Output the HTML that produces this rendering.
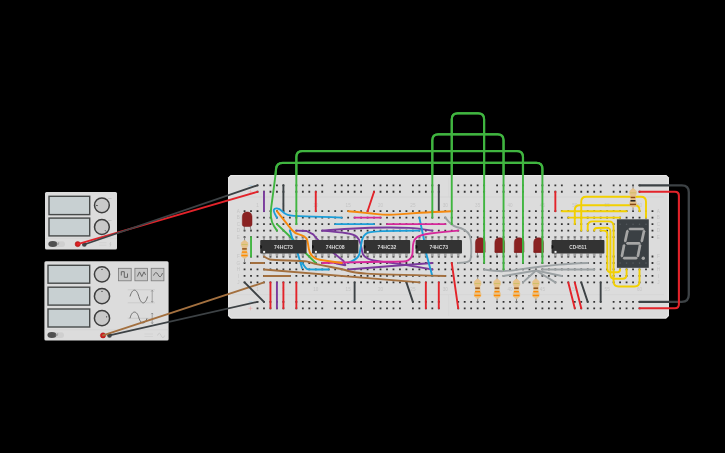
<!DOCTYPE html><html><head><meta charset="utf-8"><style>html,body{margin:0;padding:0;background:#000;width:725px;height:453px;overflow:hidden}svg{display:block;will-change:transform}text{font-family:"Liberation Sans",sans-serif}</style></head><body>
<svg width="725" height="453" viewBox="0 0 725 453">
<rect x="0" y="0" width="725" height="453" fill="#000"/>
<rect x="45" y="192" width="72" height="57.5" rx="1.5" fill="#dcdcdc"/>
<rect x="49" y="196.3" width="40.7" height="18.3" fill="#c8d0d2" stroke="#474a4a" stroke-width="1.4"/>
<rect x="49" y="218.1" width="40.7" height="17.8" fill="#c8d0d2" stroke="#474a4a" stroke-width="1.4"/>
<circle cx="101.9" cy="205.3" r="7.4" fill="#c9c9c9" stroke="#3d3d3d" stroke-width="1.5"/>
<circle cx="101.9" cy="227" r="7.4" fill="#c9c9c9" stroke="#3d3d3d" stroke-width="1.5"/>
<line x1="96" y1="205.4" x2="97.8" y2="205.6" stroke="#333" stroke-width="0.8"/>
<line x1="105" y1="230.2" x2="106" y2="231.4" stroke="#333" stroke-width="0.8"/>
<line x1="45.5" y1="238.3" x2="116.5" y2="238.3" stroke="#d0d0d0" stroke-width="0.6"/>
<rect x="49" y="241.2" width="16" height="5.8" rx="2.9" fill="#cfcfcf"/>
<ellipse cx="52.8" cy="244.1" rx="4.5" ry="3.0" fill="#505050"/>
<circle cx="77.7" cy="244.1" r="2.6" fill="#d01f1f" stroke="#a51515" stroke-width="0.5"/>
<path d="M99 242.6 h7.5 M99 245.2 h7.5" stroke="#cdcdcd" stroke-width="0.6"/>
<path d="M110.8 242 l-1 2.3 h1.2 l-1 2.3" fill="none" stroke="#bbb" stroke-width="0.5"/>
<text x="56.5" y="245.3" font-size="2.6" fill="#888">off</text>
<text x="108" y="199" font-size="2.4" fill="#aaa">ON</text><text x="108" y="221" font-size="2.4" fill="#aaa">ON</text>
<circle cx="84.3" cy="244.5" r="2.3" fill="#444"/>
<rect x="44.4" y="261.3" width="124.2" height="79.3" rx="1.5" fill="#dcdcdc"/>
<rect x="48" y="265.3" width="41.7" height="17.9" fill="#c8d0d2" stroke="#474a4a" stroke-width="1.4"/>
<rect x="48" y="287.2" width="41.7" height="17.9" fill="#c8d0d2" stroke="#474a4a" stroke-width="1.4"/>
<rect x="48" y="309" width="41.7" height="18" fill="#c8d0d2" stroke="#474a4a" stroke-width="1.4"/>
<circle cx="102" cy="274.3" r="7.6" fill="#c9c9c9" stroke="#3d3d3d" stroke-width="1.5"/>
<circle cx="102" cy="296.2" r="7.6" fill="#c9c9c9" stroke="#3d3d3d" stroke-width="1.5"/>
<circle cx="102" cy="318.2" r="7.6" fill="#c9c9c9" stroke="#3d3d3d" stroke-width="1.5"/>
<circle cx="102" cy="269.4" r="0.6" fill="#333"/><circle cx="102" cy="291.4" r="0.6" fill="#333"/><circle cx="106.6" cy="316.8" r="0.6" fill="#333"/>
<rect x="118.5" y="268.3" width="12.7" height="12.5" fill="#c8c8c8" stroke="#7a7a7a" stroke-width="0.8"/>
<rect x="134.9" y="268.3" width="12.7" height="12.5" fill="#c8c8c8" stroke="#7a7a7a" stroke-width="0.8"/>
<rect x="151.2" y="268.3" width="12.7" height="12.5" fill="#c8c8c8" stroke="#7a7a7a" stroke-width="0.8"/>
<path d="M121.3 275.5 v-3.8 h3 v5.6 h3.2 v-3.8" fill="none" stroke="#5a5a5a" stroke-width="0.9"/>
<path d="M137.3 276.5 l2.2 -4.6 l2.3 4.6 l2.2 -4.6 l1.6 3" fill="none" stroke="#5a5a5a" stroke-width="0.9"/>
<path d="M153.5 275.6 q2.3 -5.5 4.5 -1 q2.3 5 4.5 -1.5" fill="none" stroke="#5a5a5a" stroke-width="0.9"/>
<line x1="127.8" y1="289.8" x2="154.8" y2="289.8" stroke="#c4c4c4" stroke-width="0.7"/><line x1="127.8" y1="302.8" x2="154.8" y2="302.8" stroke="#c4c4c4" stroke-width="0.7"/>
<path d="M130 296.5 C132.5 288 136.5 288 138.8 296.5 C141.3 305 145.2 305 147.6 296.5" fill="none" stroke="#666" stroke-width="0.9"/>
<path d="M152.2 290.3 v12 M151.2 291.5 l1 -1.2 l1 1.2 M151.2 301.1 l1 1.2 l1 -1.2" fill="none" stroke="#777" stroke-width="0.6"/>
<line x1="127.8" y1="318.3" x2="154.8" y2="318.3" stroke="#c4c4c4" stroke-width="0.7"/>
<path d="M130 318.3 C132 310 137 310 139 318.3 C141 324.5 145 324.5 147 318.3" fill="none" stroke="#666" stroke-width="0.9"/>
<path d="M152.2 313 v10.6 M151.2 314.2 l1 -1.2 l1 1.2 M151.2 322.4 l1 1.2 l1 -1.2" fill="none" stroke="#777" stroke-width="0.6"/>
<line x1="44.8" y1="329.8" x2="168.2" y2="329.8" stroke="#d0d0d0" stroke-width="0.6"/>
<rect x="48" y="332.2" width="16" height="5.8" rx="2.9" fill="#cfcfcf"/>
<ellipse cx="51.9" cy="335.1" rx="4.5" ry="3.0" fill="#505050"/>
<circle cx="103" cy="335.4" r="2.6" fill="#d01f1f" stroke="#a51515" stroke-width="0.5"/>
<text x="55.5" y="336.4" font-size="2.6" fill="#888">off</text>
<path d="M157.5 335.5 q1.8 -4.5 3.6 0 q1.8 4.5 3.6 0" fill="none" stroke="#bdbdbd" stroke-width="0.6"/>
<path d="M144.5 334 h8.5 M144.5 336.5 h8.5" stroke="#cdcdcd" stroke-width="0.6"/>
<circle cx="109.5" cy="335.4" r="2.3" fill="#444"/>
<path d="M230.6 175 H666.4 L668.9 177.5 V316.1 L666.4 318.6 H230.6 L228.1 316.1 V177.5 Z" fill="#dcdcdc"/>
<path d="M230.9 175.6 H666.1 L668.3 177.8 V315.8 L666.1 318 H230.9 L228.7 315.8 V177.8 Z" fill="none" stroke="#e9e9e9" stroke-width="1"/>
<line x1="232" y1="197" x2="664" y2="197" stroke="#d2d2d2" stroke-width="0.6"/>
<line x1="232" y1="294.6" x2="664" y2="294.6" stroke="#d2d2d2" stroke-width="0.6"/>
<line x1="448.6" y1="295" x2="448.6" y2="316" stroke="#d4d4d4" stroke-width="0.6"/>
<line x1="448.6" y1="178" x2="448.6" y2="197" stroke="#d4d4d4" stroke-width="0.6"/>
<path d="M243.65 210.3h1.8v1.8h-1.8zM243.65 216.77h1.8v1.8h-1.8zM243.65 223.25h1.8v1.8h-1.8zM243.65 229.72h1.8v1.8h-1.8zM243.65 236.2h1.8v1.8h-1.8zM243.65 255.62h1.8v1.8h-1.8zM243.65 262.1h1.8v1.8h-1.8zM243.65 268.57h1.8v1.8h-1.8zM243.65 275.05h1.8v1.8h-1.8zM243.65 281.52h1.8v1.8h-1.8zM250.12 210.3h1.8v1.8h-1.8zM250.12 216.77h1.8v1.8h-1.8zM250.12 223.25h1.8v1.8h-1.8zM250.12 229.72h1.8v1.8h-1.8zM250.12 236.2h1.8v1.8h-1.8zM250.12 255.62h1.8v1.8h-1.8zM250.12 262.1h1.8v1.8h-1.8zM250.12 268.57h1.8v1.8h-1.8zM250.12 275.05h1.8v1.8h-1.8zM250.12 281.52h1.8v1.8h-1.8zM256.6 210.3h1.8v1.8h-1.8zM256.6 216.77h1.8v1.8h-1.8zM256.6 223.25h1.8v1.8h-1.8zM256.6 229.72h1.8v1.8h-1.8zM256.6 236.2h1.8v1.8h-1.8zM256.6 255.62h1.8v1.8h-1.8zM256.6 262.1h1.8v1.8h-1.8zM256.6 268.57h1.8v1.8h-1.8zM256.6 275.05h1.8v1.8h-1.8zM256.6 281.52h1.8v1.8h-1.8zM263.08 210.3h1.8v1.8h-1.8zM263.08 216.77h1.8v1.8h-1.8zM263.08 223.25h1.8v1.8h-1.8zM263.08 229.72h1.8v1.8h-1.8zM263.08 236.2h1.8v1.8h-1.8zM263.08 255.62h1.8v1.8h-1.8zM263.08 262.1h1.8v1.8h-1.8zM263.08 268.57h1.8v1.8h-1.8zM263.08 275.05h1.8v1.8h-1.8zM263.08 281.52h1.8v1.8h-1.8zM269.55 210.3h1.8v1.8h-1.8zM269.55 216.77h1.8v1.8h-1.8zM269.55 223.25h1.8v1.8h-1.8zM269.55 229.72h1.8v1.8h-1.8zM269.55 236.2h1.8v1.8h-1.8zM269.55 255.62h1.8v1.8h-1.8zM269.55 262.1h1.8v1.8h-1.8zM269.55 268.57h1.8v1.8h-1.8zM269.55 275.05h1.8v1.8h-1.8zM269.55 281.52h1.8v1.8h-1.8zM276.03 210.3h1.8v1.8h-1.8zM276.03 216.77h1.8v1.8h-1.8zM276.03 223.25h1.8v1.8h-1.8zM276.03 229.72h1.8v1.8h-1.8zM276.03 236.2h1.8v1.8h-1.8zM276.03 255.62h1.8v1.8h-1.8zM276.03 262.1h1.8v1.8h-1.8zM276.03 268.57h1.8v1.8h-1.8zM276.03 275.05h1.8v1.8h-1.8zM276.03 281.52h1.8v1.8h-1.8zM282.5 210.3h1.8v1.8h-1.8zM282.5 216.77h1.8v1.8h-1.8zM282.5 223.25h1.8v1.8h-1.8zM282.5 229.72h1.8v1.8h-1.8zM282.5 236.2h1.8v1.8h-1.8zM282.5 255.62h1.8v1.8h-1.8zM282.5 262.1h1.8v1.8h-1.8zM282.5 268.57h1.8v1.8h-1.8zM282.5 275.05h1.8v1.8h-1.8zM282.5 281.52h1.8v1.8h-1.8zM288.98 210.3h1.8v1.8h-1.8zM288.98 216.77h1.8v1.8h-1.8zM288.98 223.25h1.8v1.8h-1.8zM288.98 229.72h1.8v1.8h-1.8zM288.98 236.2h1.8v1.8h-1.8zM288.98 255.62h1.8v1.8h-1.8zM288.98 262.1h1.8v1.8h-1.8zM288.98 268.57h1.8v1.8h-1.8zM288.98 275.05h1.8v1.8h-1.8zM288.98 281.52h1.8v1.8h-1.8zM295.45 210.3h1.8v1.8h-1.8zM295.45 216.77h1.8v1.8h-1.8zM295.45 223.25h1.8v1.8h-1.8zM295.45 229.72h1.8v1.8h-1.8zM295.45 236.2h1.8v1.8h-1.8zM295.45 255.62h1.8v1.8h-1.8zM295.45 262.1h1.8v1.8h-1.8zM295.45 268.57h1.8v1.8h-1.8zM295.45 275.05h1.8v1.8h-1.8zM295.45 281.52h1.8v1.8h-1.8zM301.93 210.3h1.8v1.8h-1.8zM301.93 216.77h1.8v1.8h-1.8zM301.93 223.25h1.8v1.8h-1.8zM301.93 229.72h1.8v1.8h-1.8zM301.93 236.2h1.8v1.8h-1.8zM301.93 255.62h1.8v1.8h-1.8zM301.93 262.1h1.8v1.8h-1.8zM301.93 268.57h1.8v1.8h-1.8zM301.93 275.05h1.8v1.8h-1.8zM301.93 281.52h1.8v1.8h-1.8zM308.4 210.3h1.8v1.8h-1.8zM308.4 216.77h1.8v1.8h-1.8zM308.4 223.25h1.8v1.8h-1.8zM308.4 229.72h1.8v1.8h-1.8zM308.4 236.2h1.8v1.8h-1.8zM308.4 255.62h1.8v1.8h-1.8zM308.4 262.1h1.8v1.8h-1.8zM308.4 268.57h1.8v1.8h-1.8zM308.4 275.05h1.8v1.8h-1.8zM308.4 281.52h1.8v1.8h-1.8zM314.88 210.3h1.8v1.8h-1.8zM314.88 216.77h1.8v1.8h-1.8zM314.88 223.25h1.8v1.8h-1.8zM314.88 229.72h1.8v1.8h-1.8zM314.88 236.2h1.8v1.8h-1.8zM314.88 255.62h1.8v1.8h-1.8zM314.88 262.1h1.8v1.8h-1.8zM314.88 268.57h1.8v1.8h-1.8zM314.88 275.05h1.8v1.8h-1.8zM314.88 281.52h1.8v1.8h-1.8zM321.35 210.3h1.8v1.8h-1.8zM321.35 216.77h1.8v1.8h-1.8zM321.35 223.25h1.8v1.8h-1.8zM321.35 229.72h1.8v1.8h-1.8zM321.35 236.2h1.8v1.8h-1.8zM321.35 255.62h1.8v1.8h-1.8zM321.35 262.1h1.8v1.8h-1.8zM321.35 268.57h1.8v1.8h-1.8zM321.35 275.05h1.8v1.8h-1.8zM321.35 281.52h1.8v1.8h-1.8zM327.83 210.3h1.8v1.8h-1.8zM327.83 216.77h1.8v1.8h-1.8zM327.83 223.25h1.8v1.8h-1.8zM327.83 229.72h1.8v1.8h-1.8zM327.83 236.2h1.8v1.8h-1.8zM327.83 255.62h1.8v1.8h-1.8zM327.83 262.1h1.8v1.8h-1.8zM327.83 268.57h1.8v1.8h-1.8zM327.83 275.05h1.8v1.8h-1.8zM327.83 281.52h1.8v1.8h-1.8zM334.3 210.3h1.8v1.8h-1.8zM334.3 216.77h1.8v1.8h-1.8zM334.3 223.25h1.8v1.8h-1.8zM334.3 229.72h1.8v1.8h-1.8zM334.3 236.2h1.8v1.8h-1.8zM334.3 255.62h1.8v1.8h-1.8zM334.3 262.1h1.8v1.8h-1.8zM334.3 268.57h1.8v1.8h-1.8zM334.3 275.05h1.8v1.8h-1.8zM334.3 281.52h1.8v1.8h-1.8zM340.78 210.3h1.8v1.8h-1.8zM340.78 216.77h1.8v1.8h-1.8zM340.78 223.25h1.8v1.8h-1.8zM340.78 229.72h1.8v1.8h-1.8zM340.78 236.2h1.8v1.8h-1.8zM340.78 255.62h1.8v1.8h-1.8zM340.78 262.1h1.8v1.8h-1.8zM340.78 268.57h1.8v1.8h-1.8zM340.78 275.05h1.8v1.8h-1.8zM340.78 281.52h1.8v1.8h-1.8zM347.25 210.3h1.8v1.8h-1.8zM347.25 216.77h1.8v1.8h-1.8zM347.25 223.25h1.8v1.8h-1.8zM347.25 229.72h1.8v1.8h-1.8zM347.25 236.2h1.8v1.8h-1.8zM347.25 255.62h1.8v1.8h-1.8zM347.25 262.1h1.8v1.8h-1.8zM347.25 268.57h1.8v1.8h-1.8zM347.25 275.05h1.8v1.8h-1.8zM347.25 281.52h1.8v1.8h-1.8zM353.73 210.3h1.8v1.8h-1.8zM353.73 216.77h1.8v1.8h-1.8zM353.73 223.25h1.8v1.8h-1.8zM353.73 229.72h1.8v1.8h-1.8zM353.73 236.2h1.8v1.8h-1.8zM353.73 255.62h1.8v1.8h-1.8zM353.73 262.1h1.8v1.8h-1.8zM353.73 268.57h1.8v1.8h-1.8zM353.73 275.05h1.8v1.8h-1.8zM353.73 281.52h1.8v1.8h-1.8zM360.2 210.3h1.8v1.8h-1.8zM360.2 216.77h1.8v1.8h-1.8zM360.2 223.25h1.8v1.8h-1.8zM360.2 229.72h1.8v1.8h-1.8zM360.2 236.2h1.8v1.8h-1.8zM360.2 255.62h1.8v1.8h-1.8zM360.2 262.1h1.8v1.8h-1.8zM360.2 268.57h1.8v1.8h-1.8zM360.2 275.05h1.8v1.8h-1.8zM360.2 281.52h1.8v1.8h-1.8zM366.68 210.3h1.8v1.8h-1.8zM366.68 216.77h1.8v1.8h-1.8zM366.68 223.25h1.8v1.8h-1.8zM366.68 229.72h1.8v1.8h-1.8zM366.68 236.2h1.8v1.8h-1.8zM366.68 255.62h1.8v1.8h-1.8zM366.68 262.1h1.8v1.8h-1.8zM366.68 268.57h1.8v1.8h-1.8zM366.68 275.05h1.8v1.8h-1.8zM366.68 281.52h1.8v1.8h-1.8zM373.15 210.3h1.8v1.8h-1.8zM373.15 216.77h1.8v1.8h-1.8zM373.15 223.25h1.8v1.8h-1.8zM373.15 229.72h1.8v1.8h-1.8zM373.15 236.2h1.8v1.8h-1.8zM373.15 255.62h1.8v1.8h-1.8zM373.15 262.1h1.8v1.8h-1.8zM373.15 268.57h1.8v1.8h-1.8zM373.15 275.05h1.8v1.8h-1.8zM373.15 281.52h1.8v1.8h-1.8zM379.62 210.3h1.8v1.8h-1.8zM379.62 216.77h1.8v1.8h-1.8zM379.62 223.25h1.8v1.8h-1.8zM379.62 229.72h1.8v1.8h-1.8zM379.62 236.2h1.8v1.8h-1.8zM379.62 255.62h1.8v1.8h-1.8zM379.62 262.1h1.8v1.8h-1.8zM379.62 268.57h1.8v1.8h-1.8zM379.62 275.05h1.8v1.8h-1.8zM379.62 281.52h1.8v1.8h-1.8zM386.1 210.3h1.8v1.8h-1.8zM386.1 216.77h1.8v1.8h-1.8zM386.1 223.25h1.8v1.8h-1.8zM386.1 229.72h1.8v1.8h-1.8zM386.1 236.2h1.8v1.8h-1.8zM386.1 255.62h1.8v1.8h-1.8zM386.1 262.1h1.8v1.8h-1.8zM386.1 268.57h1.8v1.8h-1.8zM386.1 275.05h1.8v1.8h-1.8zM386.1 281.52h1.8v1.8h-1.8zM392.58 210.3h1.8v1.8h-1.8zM392.58 216.77h1.8v1.8h-1.8zM392.58 223.25h1.8v1.8h-1.8zM392.58 229.72h1.8v1.8h-1.8zM392.58 236.2h1.8v1.8h-1.8zM392.58 255.62h1.8v1.8h-1.8zM392.58 262.1h1.8v1.8h-1.8zM392.58 268.57h1.8v1.8h-1.8zM392.58 275.05h1.8v1.8h-1.8zM392.58 281.52h1.8v1.8h-1.8zM399.05 210.3h1.8v1.8h-1.8zM399.05 216.77h1.8v1.8h-1.8zM399.05 223.25h1.8v1.8h-1.8zM399.05 229.72h1.8v1.8h-1.8zM399.05 236.2h1.8v1.8h-1.8zM399.05 255.62h1.8v1.8h-1.8zM399.05 262.1h1.8v1.8h-1.8zM399.05 268.57h1.8v1.8h-1.8zM399.05 275.05h1.8v1.8h-1.8zM399.05 281.52h1.8v1.8h-1.8zM405.52 210.3h1.8v1.8h-1.8zM405.52 216.77h1.8v1.8h-1.8zM405.52 223.25h1.8v1.8h-1.8zM405.52 229.72h1.8v1.8h-1.8zM405.52 236.2h1.8v1.8h-1.8zM405.52 255.62h1.8v1.8h-1.8zM405.52 262.1h1.8v1.8h-1.8zM405.52 268.57h1.8v1.8h-1.8zM405.52 275.05h1.8v1.8h-1.8zM405.52 281.52h1.8v1.8h-1.8zM412 210.3h1.8v1.8h-1.8zM412 216.77h1.8v1.8h-1.8zM412 223.25h1.8v1.8h-1.8zM412 229.72h1.8v1.8h-1.8zM412 236.2h1.8v1.8h-1.8zM412 255.62h1.8v1.8h-1.8zM412 262.1h1.8v1.8h-1.8zM412 268.57h1.8v1.8h-1.8zM412 275.05h1.8v1.8h-1.8zM412 281.52h1.8v1.8h-1.8zM418.48 210.3h1.8v1.8h-1.8zM418.48 216.77h1.8v1.8h-1.8zM418.48 223.25h1.8v1.8h-1.8zM418.48 229.72h1.8v1.8h-1.8zM418.48 236.2h1.8v1.8h-1.8zM418.48 255.62h1.8v1.8h-1.8zM418.48 262.1h1.8v1.8h-1.8zM418.48 268.57h1.8v1.8h-1.8zM418.48 275.05h1.8v1.8h-1.8zM418.48 281.52h1.8v1.8h-1.8zM424.95 210.3h1.8v1.8h-1.8zM424.95 216.77h1.8v1.8h-1.8zM424.95 223.25h1.8v1.8h-1.8zM424.95 229.72h1.8v1.8h-1.8zM424.95 236.2h1.8v1.8h-1.8zM424.95 255.62h1.8v1.8h-1.8zM424.95 262.1h1.8v1.8h-1.8zM424.95 268.57h1.8v1.8h-1.8zM424.95 275.05h1.8v1.8h-1.8zM424.95 281.52h1.8v1.8h-1.8zM431.43 210.3h1.8v1.8h-1.8zM431.43 216.77h1.8v1.8h-1.8zM431.43 223.25h1.8v1.8h-1.8zM431.43 229.72h1.8v1.8h-1.8zM431.43 236.2h1.8v1.8h-1.8zM431.43 255.62h1.8v1.8h-1.8zM431.43 262.1h1.8v1.8h-1.8zM431.43 268.57h1.8v1.8h-1.8zM431.43 275.05h1.8v1.8h-1.8zM431.43 281.52h1.8v1.8h-1.8zM437.9 210.3h1.8v1.8h-1.8zM437.9 216.77h1.8v1.8h-1.8zM437.9 223.25h1.8v1.8h-1.8zM437.9 229.72h1.8v1.8h-1.8zM437.9 236.2h1.8v1.8h-1.8zM437.9 255.62h1.8v1.8h-1.8zM437.9 262.1h1.8v1.8h-1.8zM437.9 268.57h1.8v1.8h-1.8zM437.9 275.05h1.8v1.8h-1.8zM437.9 281.52h1.8v1.8h-1.8zM444.38 210.3h1.8v1.8h-1.8zM444.38 216.77h1.8v1.8h-1.8zM444.38 223.25h1.8v1.8h-1.8zM444.38 229.72h1.8v1.8h-1.8zM444.38 236.2h1.8v1.8h-1.8zM444.38 255.62h1.8v1.8h-1.8zM444.38 262.1h1.8v1.8h-1.8zM444.38 268.57h1.8v1.8h-1.8zM444.38 275.05h1.8v1.8h-1.8zM444.38 281.52h1.8v1.8h-1.8zM450.85 210.3h1.8v1.8h-1.8zM450.85 216.77h1.8v1.8h-1.8zM450.85 223.25h1.8v1.8h-1.8zM450.85 229.72h1.8v1.8h-1.8zM450.85 236.2h1.8v1.8h-1.8zM450.85 255.62h1.8v1.8h-1.8zM450.85 262.1h1.8v1.8h-1.8zM450.85 268.57h1.8v1.8h-1.8zM450.85 275.05h1.8v1.8h-1.8zM450.85 281.52h1.8v1.8h-1.8zM457.33 210.3h1.8v1.8h-1.8zM457.33 216.77h1.8v1.8h-1.8zM457.33 223.25h1.8v1.8h-1.8zM457.33 229.72h1.8v1.8h-1.8zM457.33 236.2h1.8v1.8h-1.8zM457.33 255.62h1.8v1.8h-1.8zM457.33 262.1h1.8v1.8h-1.8zM457.33 268.57h1.8v1.8h-1.8zM457.33 275.05h1.8v1.8h-1.8zM457.33 281.52h1.8v1.8h-1.8zM463.8 210.3h1.8v1.8h-1.8zM463.8 216.77h1.8v1.8h-1.8zM463.8 223.25h1.8v1.8h-1.8zM463.8 229.72h1.8v1.8h-1.8zM463.8 236.2h1.8v1.8h-1.8zM463.8 255.62h1.8v1.8h-1.8zM463.8 262.1h1.8v1.8h-1.8zM463.8 268.57h1.8v1.8h-1.8zM463.8 275.05h1.8v1.8h-1.8zM463.8 281.52h1.8v1.8h-1.8zM470.27 210.3h1.8v1.8h-1.8zM470.27 216.77h1.8v1.8h-1.8zM470.27 223.25h1.8v1.8h-1.8zM470.27 229.72h1.8v1.8h-1.8zM470.27 236.2h1.8v1.8h-1.8zM470.27 255.62h1.8v1.8h-1.8zM470.27 262.1h1.8v1.8h-1.8zM470.27 268.57h1.8v1.8h-1.8zM470.27 275.05h1.8v1.8h-1.8zM470.27 281.52h1.8v1.8h-1.8zM476.75 210.3h1.8v1.8h-1.8zM476.75 216.77h1.8v1.8h-1.8zM476.75 223.25h1.8v1.8h-1.8zM476.75 229.72h1.8v1.8h-1.8zM476.75 236.2h1.8v1.8h-1.8zM476.75 255.62h1.8v1.8h-1.8zM476.75 262.1h1.8v1.8h-1.8zM476.75 268.57h1.8v1.8h-1.8zM476.75 275.05h1.8v1.8h-1.8zM476.75 281.52h1.8v1.8h-1.8zM483.23 210.3h1.8v1.8h-1.8zM483.23 216.77h1.8v1.8h-1.8zM483.23 223.25h1.8v1.8h-1.8zM483.23 229.72h1.8v1.8h-1.8zM483.23 236.2h1.8v1.8h-1.8zM483.23 255.62h1.8v1.8h-1.8zM483.23 262.1h1.8v1.8h-1.8zM483.23 268.57h1.8v1.8h-1.8zM483.23 275.05h1.8v1.8h-1.8zM483.23 281.52h1.8v1.8h-1.8zM489.7 210.3h1.8v1.8h-1.8zM489.7 216.77h1.8v1.8h-1.8zM489.7 223.25h1.8v1.8h-1.8zM489.7 229.72h1.8v1.8h-1.8zM489.7 236.2h1.8v1.8h-1.8zM489.7 255.62h1.8v1.8h-1.8zM489.7 262.1h1.8v1.8h-1.8zM489.7 268.57h1.8v1.8h-1.8zM489.7 275.05h1.8v1.8h-1.8zM489.7 281.52h1.8v1.8h-1.8zM496.18 210.3h1.8v1.8h-1.8zM496.18 216.77h1.8v1.8h-1.8zM496.18 223.25h1.8v1.8h-1.8zM496.18 229.72h1.8v1.8h-1.8zM496.18 236.2h1.8v1.8h-1.8zM496.18 255.62h1.8v1.8h-1.8zM496.18 262.1h1.8v1.8h-1.8zM496.18 268.57h1.8v1.8h-1.8zM496.18 275.05h1.8v1.8h-1.8zM496.18 281.52h1.8v1.8h-1.8zM502.65 210.3h1.8v1.8h-1.8zM502.65 216.77h1.8v1.8h-1.8zM502.65 223.25h1.8v1.8h-1.8zM502.65 229.72h1.8v1.8h-1.8zM502.65 236.2h1.8v1.8h-1.8zM502.65 255.62h1.8v1.8h-1.8zM502.65 262.1h1.8v1.8h-1.8zM502.65 268.57h1.8v1.8h-1.8zM502.65 275.05h1.8v1.8h-1.8zM502.65 281.52h1.8v1.8h-1.8zM509.12 210.3h1.8v1.8h-1.8zM509.12 216.77h1.8v1.8h-1.8zM509.12 223.25h1.8v1.8h-1.8zM509.12 229.72h1.8v1.8h-1.8zM509.12 236.2h1.8v1.8h-1.8zM509.12 255.62h1.8v1.8h-1.8zM509.12 262.1h1.8v1.8h-1.8zM509.12 268.57h1.8v1.8h-1.8zM509.12 275.05h1.8v1.8h-1.8zM509.12 281.52h1.8v1.8h-1.8zM515.6 210.3h1.8v1.8h-1.8zM515.6 216.77h1.8v1.8h-1.8zM515.6 223.25h1.8v1.8h-1.8zM515.6 229.72h1.8v1.8h-1.8zM515.6 236.2h1.8v1.8h-1.8zM515.6 255.62h1.8v1.8h-1.8zM515.6 262.1h1.8v1.8h-1.8zM515.6 268.57h1.8v1.8h-1.8zM515.6 275.05h1.8v1.8h-1.8zM515.6 281.52h1.8v1.8h-1.8zM522.07 210.3h1.8v1.8h-1.8zM522.07 216.77h1.8v1.8h-1.8zM522.07 223.25h1.8v1.8h-1.8zM522.07 229.72h1.8v1.8h-1.8zM522.07 236.2h1.8v1.8h-1.8zM522.07 255.62h1.8v1.8h-1.8zM522.07 262.1h1.8v1.8h-1.8zM522.07 268.57h1.8v1.8h-1.8zM522.07 275.05h1.8v1.8h-1.8zM522.07 281.52h1.8v1.8h-1.8zM528.55 210.3h1.8v1.8h-1.8zM528.55 216.77h1.8v1.8h-1.8zM528.55 223.25h1.8v1.8h-1.8zM528.55 229.72h1.8v1.8h-1.8zM528.55 236.2h1.8v1.8h-1.8zM528.55 255.62h1.8v1.8h-1.8zM528.55 262.1h1.8v1.8h-1.8zM528.55 268.57h1.8v1.8h-1.8zM528.55 275.05h1.8v1.8h-1.8zM528.55 281.52h1.8v1.8h-1.8zM535.02 210.3h1.8v1.8h-1.8zM535.02 216.77h1.8v1.8h-1.8zM535.02 223.25h1.8v1.8h-1.8zM535.02 229.72h1.8v1.8h-1.8zM535.02 236.2h1.8v1.8h-1.8zM535.02 255.62h1.8v1.8h-1.8zM535.02 262.1h1.8v1.8h-1.8zM535.02 268.57h1.8v1.8h-1.8zM535.02 275.05h1.8v1.8h-1.8zM535.02 281.52h1.8v1.8h-1.8zM541.5 210.3h1.8v1.8h-1.8zM541.5 216.77h1.8v1.8h-1.8zM541.5 223.25h1.8v1.8h-1.8zM541.5 229.72h1.8v1.8h-1.8zM541.5 236.2h1.8v1.8h-1.8zM541.5 255.62h1.8v1.8h-1.8zM541.5 262.1h1.8v1.8h-1.8zM541.5 268.57h1.8v1.8h-1.8zM541.5 275.05h1.8v1.8h-1.8zM541.5 281.52h1.8v1.8h-1.8zM547.98 210.3h1.8v1.8h-1.8zM547.98 216.77h1.8v1.8h-1.8zM547.98 223.25h1.8v1.8h-1.8zM547.98 229.72h1.8v1.8h-1.8zM547.98 236.2h1.8v1.8h-1.8zM547.98 255.62h1.8v1.8h-1.8zM547.98 262.1h1.8v1.8h-1.8zM547.98 268.57h1.8v1.8h-1.8zM547.98 275.05h1.8v1.8h-1.8zM547.98 281.52h1.8v1.8h-1.8zM554.45 210.3h1.8v1.8h-1.8zM554.45 216.77h1.8v1.8h-1.8zM554.45 223.25h1.8v1.8h-1.8zM554.45 229.72h1.8v1.8h-1.8zM554.45 236.2h1.8v1.8h-1.8zM554.45 255.62h1.8v1.8h-1.8zM554.45 262.1h1.8v1.8h-1.8zM554.45 268.57h1.8v1.8h-1.8zM554.45 275.05h1.8v1.8h-1.8zM554.45 281.52h1.8v1.8h-1.8zM560.93 210.3h1.8v1.8h-1.8zM560.93 216.77h1.8v1.8h-1.8zM560.93 223.25h1.8v1.8h-1.8zM560.93 229.72h1.8v1.8h-1.8zM560.93 236.2h1.8v1.8h-1.8zM560.93 255.62h1.8v1.8h-1.8zM560.93 262.1h1.8v1.8h-1.8zM560.93 268.57h1.8v1.8h-1.8zM560.93 275.05h1.8v1.8h-1.8zM560.93 281.52h1.8v1.8h-1.8zM567.4 210.3h1.8v1.8h-1.8zM567.4 216.77h1.8v1.8h-1.8zM567.4 223.25h1.8v1.8h-1.8zM567.4 229.72h1.8v1.8h-1.8zM567.4 236.2h1.8v1.8h-1.8zM567.4 255.62h1.8v1.8h-1.8zM567.4 262.1h1.8v1.8h-1.8zM567.4 268.57h1.8v1.8h-1.8zM567.4 275.05h1.8v1.8h-1.8zM567.4 281.52h1.8v1.8h-1.8zM573.88 210.3h1.8v1.8h-1.8zM573.88 216.77h1.8v1.8h-1.8zM573.88 223.25h1.8v1.8h-1.8zM573.88 229.72h1.8v1.8h-1.8zM573.88 236.2h1.8v1.8h-1.8zM573.88 255.62h1.8v1.8h-1.8zM573.88 262.1h1.8v1.8h-1.8zM573.88 268.57h1.8v1.8h-1.8zM573.88 275.05h1.8v1.8h-1.8zM573.88 281.52h1.8v1.8h-1.8zM580.35 210.3h1.8v1.8h-1.8zM580.35 216.77h1.8v1.8h-1.8zM580.35 223.25h1.8v1.8h-1.8zM580.35 229.72h1.8v1.8h-1.8zM580.35 236.2h1.8v1.8h-1.8zM580.35 255.62h1.8v1.8h-1.8zM580.35 262.1h1.8v1.8h-1.8zM580.35 268.57h1.8v1.8h-1.8zM580.35 275.05h1.8v1.8h-1.8zM580.35 281.52h1.8v1.8h-1.8zM586.82 210.3h1.8v1.8h-1.8zM586.82 216.77h1.8v1.8h-1.8zM586.82 223.25h1.8v1.8h-1.8zM586.82 229.72h1.8v1.8h-1.8zM586.82 236.2h1.8v1.8h-1.8zM586.82 255.62h1.8v1.8h-1.8zM586.82 262.1h1.8v1.8h-1.8zM586.82 268.57h1.8v1.8h-1.8zM586.82 275.05h1.8v1.8h-1.8zM586.82 281.52h1.8v1.8h-1.8zM593.3 210.3h1.8v1.8h-1.8zM593.3 216.77h1.8v1.8h-1.8zM593.3 223.25h1.8v1.8h-1.8zM593.3 229.72h1.8v1.8h-1.8zM593.3 236.2h1.8v1.8h-1.8zM593.3 255.62h1.8v1.8h-1.8zM593.3 262.1h1.8v1.8h-1.8zM593.3 268.57h1.8v1.8h-1.8zM593.3 275.05h1.8v1.8h-1.8zM593.3 281.52h1.8v1.8h-1.8zM599.77 210.3h1.8v1.8h-1.8zM599.77 216.77h1.8v1.8h-1.8zM599.77 223.25h1.8v1.8h-1.8zM599.77 229.72h1.8v1.8h-1.8zM599.77 236.2h1.8v1.8h-1.8zM599.77 255.62h1.8v1.8h-1.8zM599.77 262.1h1.8v1.8h-1.8zM599.77 268.57h1.8v1.8h-1.8zM599.77 275.05h1.8v1.8h-1.8zM599.77 281.52h1.8v1.8h-1.8zM606.25 210.3h1.8v1.8h-1.8zM606.25 216.77h1.8v1.8h-1.8zM606.25 223.25h1.8v1.8h-1.8zM606.25 229.72h1.8v1.8h-1.8zM606.25 236.2h1.8v1.8h-1.8zM606.25 255.62h1.8v1.8h-1.8zM606.25 262.1h1.8v1.8h-1.8zM606.25 268.57h1.8v1.8h-1.8zM606.25 275.05h1.8v1.8h-1.8zM606.25 281.52h1.8v1.8h-1.8zM612.73 210.3h1.8v1.8h-1.8zM612.73 216.77h1.8v1.8h-1.8zM612.73 223.25h1.8v1.8h-1.8zM612.73 229.72h1.8v1.8h-1.8zM612.73 236.2h1.8v1.8h-1.8zM612.73 255.62h1.8v1.8h-1.8zM612.73 262.1h1.8v1.8h-1.8zM612.73 268.57h1.8v1.8h-1.8zM612.73 275.05h1.8v1.8h-1.8zM612.73 281.52h1.8v1.8h-1.8zM619.2 210.3h1.8v1.8h-1.8zM619.2 216.77h1.8v1.8h-1.8zM619.2 223.25h1.8v1.8h-1.8zM619.2 229.72h1.8v1.8h-1.8zM619.2 236.2h1.8v1.8h-1.8zM619.2 255.62h1.8v1.8h-1.8zM619.2 262.1h1.8v1.8h-1.8zM619.2 268.57h1.8v1.8h-1.8zM619.2 275.05h1.8v1.8h-1.8zM619.2 281.52h1.8v1.8h-1.8zM625.68 210.3h1.8v1.8h-1.8zM625.68 216.77h1.8v1.8h-1.8zM625.68 223.25h1.8v1.8h-1.8zM625.68 229.72h1.8v1.8h-1.8zM625.68 236.2h1.8v1.8h-1.8zM625.68 255.62h1.8v1.8h-1.8zM625.68 262.1h1.8v1.8h-1.8zM625.68 268.57h1.8v1.8h-1.8zM625.68 275.05h1.8v1.8h-1.8zM625.68 281.52h1.8v1.8h-1.8zM632.15 210.3h1.8v1.8h-1.8zM632.15 216.77h1.8v1.8h-1.8zM632.15 223.25h1.8v1.8h-1.8zM632.15 229.72h1.8v1.8h-1.8zM632.15 236.2h1.8v1.8h-1.8zM632.15 255.62h1.8v1.8h-1.8zM632.15 262.1h1.8v1.8h-1.8zM632.15 268.57h1.8v1.8h-1.8zM632.15 275.05h1.8v1.8h-1.8zM632.15 281.52h1.8v1.8h-1.8zM638.62 210.3h1.8v1.8h-1.8zM638.62 216.77h1.8v1.8h-1.8zM638.62 223.25h1.8v1.8h-1.8zM638.62 229.72h1.8v1.8h-1.8zM638.62 236.2h1.8v1.8h-1.8zM638.62 255.62h1.8v1.8h-1.8zM638.62 262.1h1.8v1.8h-1.8zM638.62 268.57h1.8v1.8h-1.8zM638.62 275.05h1.8v1.8h-1.8zM638.62 281.52h1.8v1.8h-1.8zM645.1 210.3h1.8v1.8h-1.8zM645.1 216.77h1.8v1.8h-1.8zM645.1 223.25h1.8v1.8h-1.8zM645.1 229.72h1.8v1.8h-1.8zM645.1 236.2h1.8v1.8h-1.8zM645.1 255.62h1.8v1.8h-1.8zM645.1 262.1h1.8v1.8h-1.8zM645.1 268.57h1.8v1.8h-1.8zM645.1 275.05h1.8v1.8h-1.8zM645.1 281.52h1.8v1.8h-1.8zM651.57 210.3h1.8v1.8h-1.8zM651.57 216.77h1.8v1.8h-1.8zM651.57 223.25h1.8v1.8h-1.8zM651.57 229.72h1.8v1.8h-1.8zM651.57 236.2h1.8v1.8h-1.8zM651.57 255.62h1.8v1.8h-1.8zM651.57 262.1h1.8v1.8h-1.8zM651.57 268.57h1.8v1.8h-1.8zM651.57 275.05h1.8v1.8h-1.8zM651.57 281.52h1.8v1.8h-1.8zM256.6 184.4h1.8v1.8h-1.8zM256.6 190.87h1.8v1.8h-1.8zM256.6 300.95h1.8v1.8h-1.8zM256.6 307.43h1.8v1.8h-1.8zM263.08 184.4h1.8v1.8h-1.8zM263.08 190.87h1.8v1.8h-1.8zM263.08 300.95h1.8v1.8h-1.8zM263.08 307.43h1.8v1.8h-1.8zM269.55 184.4h1.8v1.8h-1.8zM269.55 190.87h1.8v1.8h-1.8zM269.55 300.95h1.8v1.8h-1.8zM269.55 307.43h1.8v1.8h-1.8zM276.03 184.4h1.8v1.8h-1.8zM276.03 190.87h1.8v1.8h-1.8zM276.03 300.95h1.8v1.8h-1.8zM276.03 307.43h1.8v1.8h-1.8zM282.5 184.4h1.8v1.8h-1.8zM282.5 190.87h1.8v1.8h-1.8zM282.5 300.95h1.8v1.8h-1.8zM282.5 307.43h1.8v1.8h-1.8zM295.45 184.4h1.8v1.8h-1.8zM295.45 190.87h1.8v1.8h-1.8zM295.45 300.95h1.8v1.8h-1.8zM295.45 307.43h1.8v1.8h-1.8zM301.93 184.4h1.8v1.8h-1.8zM301.93 190.87h1.8v1.8h-1.8zM301.93 300.95h1.8v1.8h-1.8zM301.93 307.43h1.8v1.8h-1.8zM308.4 184.4h1.8v1.8h-1.8zM308.4 190.87h1.8v1.8h-1.8zM308.4 300.95h1.8v1.8h-1.8zM308.4 307.43h1.8v1.8h-1.8zM314.88 184.4h1.8v1.8h-1.8zM314.88 190.87h1.8v1.8h-1.8zM314.88 300.95h1.8v1.8h-1.8zM314.88 307.43h1.8v1.8h-1.8zM321.35 184.4h1.8v1.8h-1.8zM321.35 190.87h1.8v1.8h-1.8zM321.35 300.95h1.8v1.8h-1.8zM321.35 307.43h1.8v1.8h-1.8zM334.3 184.4h1.8v1.8h-1.8zM334.3 190.87h1.8v1.8h-1.8zM334.3 300.95h1.8v1.8h-1.8zM334.3 307.43h1.8v1.8h-1.8zM340.78 184.4h1.8v1.8h-1.8zM340.78 190.87h1.8v1.8h-1.8zM340.78 300.95h1.8v1.8h-1.8zM340.78 307.43h1.8v1.8h-1.8zM347.25 184.4h1.8v1.8h-1.8zM347.25 190.87h1.8v1.8h-1.8zM347.25 300.95h1.8v1.8h-1.8zM347.25 307.43h1.8v1.8h-1.8zM353.73 184.4h1.8v1.8h-1.8zM353.73 190.87h1.8v1.8h-1.8zM353.73 300.95h1.8v1.8h-1.8zM353.73 307.43h1.8v1.8h-1.8zM360.2 184.4h1.8v1.8h-1.8zM360.2 190.87h1.8v1.8h-1.8zM360.2 300.95h1.8v1.8h-1.8zM360.2 307.43h1.8v1.8h-1.8zM373.15 184.4h1.8v1.8h-1.8zM373.15 190.87h1.8v1.8h-1.8zM373.15 300.95h1.8v1.8h-1.8zM373.15 307.43h1.8v1.8h-1.8zM379.62 184.4h1.8v1.8h-1.8zM379.62 190.87h1.8v1.8h-1.8zM379.62 300.95h1.8v1.8h-1.8zM379.62 307.43h1.8v1.8h-1.8zM386.1 184.4h1.8v1.8h-1.8zM386.1 190.87h1.8v1.8h-1.8zM386.1 300.95h1.8v1.8h-1.8zM386.1 307.43h1.8v1.8h-1.8zM392.58 184.4h1.8v1.8h-1.8zM392.58 190.87h1.8v1.8h-1.8zM392.58 300.95h1.8v1.8h-1.8zM392.58 307.43h1.8v1.8h-1.8zM399.05 184.4h1.8v1.8h-1.8zM399.05 190.87h1.8v1.8h-1.8zM399.05 300.95h1.8v1.8h-1.8zM399.05 307.43h1.8v1.8h-1.8zM412 184.4h1.8v1.8h-1.8zM412 190.87h1.8v1.8h-1.8zM412 300.95h1.8v1.8h-1.8zM412 307.43h1.8v1.8h-1.8zM418.48 184.4h1.8v1.8h-1.8zM418.48 190.87h1.8v1.8h-1.8zM418.48 300.95h1.8v1.8h-1.8zM418.48 307.43h1.8v1.8h-1.8zM424.95 184.4h1.8v1.8h-1.8zM424.95 190.87h1.8v1.8h-1.8zM424.95 300.95h1.8v1.8h-1.8zM424.95 307.43h1.8v1.8h-1.8zM431.43 184.4h1.8v1.8h-1.8zM431.43 190.87h1.8v1.8h-1.8zM431.43 300.95h1.8v1.8h-1.8zM431.43 307.43h1.8v1.8h-1.8zM437.9 184.4h1.8v1.8h-1.8zM437.9 190.87h1.8v1.8h-1.8zM437.9 300.95h1.8v1.8h-1.8zM437.9 307.43h1.8v1.8h-1.8zM457.33 184.4h1.8v1.8h-1.8zM457.33 190.87h1.8v1.8h-1.8zM457.33 300.95h1.8v1.8h-1.8zM457.33 307.43h1.8v1.8h-1.8zM463.8 184.4h1.8v1.8h-1.8zM463.8 190.87h1.8v1.8h-1.8zM463.8 300.95h1.8v1.8h-1.8zM463.8 307.43h1.8v1.8h-1.8zM470.27 184.4h1.8v1.8h-1.8zM470.27 190.87h1.8v1.8h-1.8zM470.27 300.95h1.8v1.8h-1.8zM470.27 307.43h1.8v1.8h-1.8zM476.75 184.4h1.8v1.8h-1.8zM476.75 190.87h1.8v1.8h-1.8zM476.75 300.95h1.8v1.8h-1.8zM476.75 307.43h1.8v1.8h-1.8zM483.23 184.4h1.8v1.8h-1.8zM483.23 190.87h1.8v1.8h-1.8zM483.23 300.95h1.8v1.8h-1.8zM483.23 307.43h1.8v1.8h-1.8zM496.18 184.4h1.8v1.8h-1.8zM496.18 190.87h1.8v1.8h-1.8zM496.18 300.95h1.8v1.8h-1.8zM496.18 307.43h1.8v1.8h-1.8zM502.65 184.4h1.8v1.8h-1.8zM502.65 190.87h1.8v1.8h-1.8zM502.65 300.95h1.8v1.8h-1.8zM502.65 307.43h1.8v1.8h-1.8zM509.12 184.4h1.8v1.8h-1.8zM509.12 190.87h1.8v1.8h-1.8zM509.12 300.95h1.8v1.8h-1.8zM509.12 307.43h1.8v1.8h-1.8zM515.6 184.4h1.8v1.8h-1.8zM515.6 190.87h1.8v1.8h-1.8zM515.6 300.95h1.8v1.8h-1.8zM515.6 307.43h1.8v1.8h-1.8zM522.07 184.4h1.8v1.8h-1.8zM522.07 190.87h1.8v1.8h-1.8zM522.07 300.95h1.8v1.8h-1.8zM522.07 307.43h1.8v1.8h-1.8zM535.02 184.4h1.8v1.8h-1.8zM535.02 190.87h1.8v1.8h-1.8zM535.02 300.95h1.8v1.8h-1.8zM535.02 307.43h1.8v1.8h-1.8zM541.5 184.4h1.8v1.8h-1.8zM541.5 190.87h1.8v1.8h-1.8zM541.5 300.95h1.8v1.8h-1.8zM541.5 307.43h1.8v1.8h-1.8zM547.98 184.4h1.8v1.8h-1.8zM547.98 190.87h1.8v1.8h-1.8zM547.98 300.95h1.8v1.8h-1.8zM547.98 307.43h1.8v1.8h-1.8zM554.45 184.4h1.8v1.8h-1.8zM554.45 190.87h1.8v1.8h-1.8zM554.45 300.95h1.8v1.8h-1.8zM554.45 307.43h1.8v1.8h-1.8zM560.93 184.4h1.8v1.8h-1.8zM560.93 190.87h1.8v1.8h-1.8zM560.93 300.95h1.8v1.8h-1.8zM560.93 307.43h1.8v1.8h-1.8zM573.88 184.4h1.8v1.8h-1.8zM573.88 190.87h1.8v1.8h-1.8zM573.88 300.95h1.8v1.8h-1.8zM573.88 307.43h1.8v1.8h-1.8zM580.35 184.4h1.8v1.8h-1.8zM580.35 190.87h1.8v1.8h-1.8zM580.35 300.95h1.8v1.8h-1.8zM580.35 307.43h1.8v1.8h-1.8zM586.82 184.4h1.8v1.8h-1.8zM586.82 190.87h1.8v1.8h-1.8zM586.82 300.95h1.8v1.8h-1.8zM586.82 307.43h1.8v1.8h-1.8zM593.3 184.4h1.8v1.8h-1.8zM593.3 190.87h1.8v1.8h-1.8zM593.3 300.95h1.8v1.8h-1.8zM593.3 307.43h1.8v1.8h-1.8zM599.77 184.4h1.8v1.8h-1.8zM599.77 190.87h1.8v1.8h-1.8zM599.77 300.95h1.8v1.8h-1.8zM599.77 307.43h1.8v1.8h-1.8zM612.73 184.4h1.8v1.8h-1.8zM612.73 190.87h1.8v1.8h-1.8zM612.73 300.95h1.8v1.8h-1.8zM612.73 307.43h1.8v1.8h-1.8zM619.2 184.4h1.8v1.8h-1.8zM619.2 190.87h1.8v1.8h-1.8zM619.2 300.95h1.8v1.8h-1.8zM619.2 307.43h1.8v1.8h-1.8zM625.68 184.4h1.8v1.8h-1.8zM625.68 190.87h1.8v1.8h-1.8zM625.68 300.95h1.8v1.8h-1.8zM625.68 307.43h1.8v1.8h-1.8zM632.15 184.4h1.8v1.8h-1.8zM632.15 190.87h1.8v1.8h-1.8zM632.15 300.95h1.8v1.8h-1.8zM632.15 307.43h1.8v1.8h-1.8zM638.62 184.4h1.8v1.8h-1.8zM638.62 190.87h1.8v1.8h-1.8zM638.62 300.95h1.8v1.8h-1.8zM638.62 307.43h1.8v1.8h-1.8z" fill="#333"/>
<text x="238.4" y="212.9" font-size="4.6" fill="#c4c4c4" text-anchor="middle">A</text>
<text x="658.4" y="212.9" font-size="4.6" fill="#c4c4c4" text-anchor="middle">A</text>
<text x="238.4" y="219.37" font-size="4.6" fill="#c4c4c4" text-anchor="middle">B</text>
<text x="658.4" y="219.37" font-size="4.6" fill="#c4c4c4" text-anchor="middle">B</text>
<text x="238.4" y="225.85" font-size="4.6" fill="#c4c4c4" text-anchor="middle">C</text>
<text x="658.4" y="225.85" font-size="4.6" fill="#c4c4c4" text-anchor="middle">C</text>
<text x="238.4" y="232.32" font-size="4.6" fill="#c4c4c4" text-anchor="middle">D</text>
<text x="658.4" y="232.32" font-size="4.6" fill="#c4c4c4" text-anchor="middle">D</text>
<text x="238.4" y="238.8" font-size="4.6" fill="#c4c4c4" text-anchor="middle">E</text>
<text x="658.4" y="238.8" font-size="4.6" fill="#c4c4c4" text-anchor="middle">E</text>
<text x="238.4" y="258.22" font-size="4.6" fill="#c4c4c4" text-anchor="middle">F</text>
<text x="658.4" y="258.22" font-size="4.6" fill="#c4c4c4" text-anchor="middle">F</text>
<text x="238.4" y="264.7" font-size="4.6" fill="#c4c4c4" text-anchor="middle">G</text>
<text x="658.4" y="264.7" font-size="4.6" fill="#c4c4c4" text-anchor="middle">G</text>
<text x="238.4" y="271.17" font-size="4.6" fill="#c4c4c4" text-anchor="middle">H</text>
<text x="658.4" y="271.17" font-size="4.6" fill="#c4c4c4" text-anchor="middle">H</text>
<text x="238.4" y="277.65" font-size="4.6" fill="#c4c4c4" text-anchor="middle">I</text>
<text x="658.4" y="277.65" font-size="4.6" fill="#c4c4c4" text-anchor="middle">I</text>
<text x="238.4" y="284.12" font-size="4.6" fill="#c4c4c4" text-anchor="middle">J</text>
<text x="658.4" y="284.12" font-size="4.6" fill="#c4c4c4" text-anchor="middle">J</text>
<text x="257.5" y="206.9" font-size="4.6" fill="#c4c4c4" text-anchor="middle">1</text>
<text x="257.5" y="291.2" font-size="4.6" fill="#c4c4c4" text-anchor="middle">1</text>
<text x="283.4" y="206.9" font-size="4.6" fill="#c4c4c4" text-anchor="middle">5</text>
<text x="283.4" y="291.2" font-size="4.6" fill="#c4c4c4" text-anchor="middle">5</text>
<text x="315.77" y="206.9" font-size="4.6" fill="#c4c4c4" text-anchor="middle">10</text>
<text x="315.77" y="291.2" font-size="4.6" fill="#c4c4c4" text-anchor="middle">10</text>
<text x="348.15" y="206.9" font-size="4.6" fill="#c4c4c4" text-anchor="middle">15</text>
<text x="348.15" y="291.2" font-size="4.6" fill="#c4c4c4" text-anchor="middle">15</text>
<text x="380.52" y="206.9" font-size="4.6" fill="#c4c4c4" text-anchor="middle">20</text>
<text x="380.52" y="291.2" font-size="4.6" fill="#c4c4c4" text-anchor="middle">20</text>
<text x="412.9" y="206.9" font-size="4.6" fill="#c4c4c4" text-anchor="middle">25</text>
<text x="412.9" y="291.2" font-size="4.6" fill="#c4c4c4" text-anchor="middle">25</text>
<text x="445.27" y="206.9" font-size="4.6" fill="#c4c4c4" text-anchor="middle">30</text>
<text x="445.27" y="291.2" font-size="4.6" fill="#c4c4c4" text-anchor="middle">30</text>
<text x="477.65" y="206.9" font-size="4.6" fill="#c4c4c4" text-anchor="middle">35</text>
<text x="477.65" y="291.2" font-size="4.6" fill="#c4c4c4" text-anchor="middle">35</text>
<text x="510.02" y="206.9" font-size="4.6" fill="#c4c4c4" text-anchor="middle">40</text>
<text x="510.02" y="291.2" font-size="4.6" fill="#c4c4c4" text-anchor="middle">40</text>
<text x="542.4" y="206.9" font-size="4.6" fill="#c4c4c4" text-anchor="middle">45</text>
<text x="542.4" y="291.2" font-size="4.6" fill="#c4c4c4" text-anchor="middle">45</text>
<text x="574.77" y="206.9" font-size="4.6" fill="#c4c4c4" text-anchor="middle">50</text>
<text x="574.77" y="291.2" font-size="4.6" fill="#c4c4c4" text-anchor="middle">50</text>
<text x="607.15" y="206.9" font-size="4.6" fill="#c4c4c4" text-anchor="middle">55</text>
<text x="607.15" y="291.2" font-size="4.6" fill="#c4c4c4" text-anchor="middle">55</text>
<text x="639.52" y="206.9" font-size="4.6" fill="#c4c4c4" text-anchor="middle">60</text>
<text x="639.52" y="291.2" font-size="4.6" fill="#c4c4c4" text-anchor="middle">60</text>
<line x1="248.5" y1="185.5" x2="252.5" y2="185.5" stroke="#9cc8e0" stroke-width="0.6"/>
<path d="M248.5 191.8 h4 M250.5 189.8 v4" stroke="#e8a8a8" stroke-width="0.6"/>
<line x1="248.5" y1="301.8" x2="252.5" y2="301.8" stroke="#9cc8e0" stroke-width="0.6"/>
<path d="M248.5 308.3 h4 M250.5 306.3 v4" stroke="#e8a8a8" stroke-width="0.6"/>
<path d="M262.48 236.0 h3.0 l-0.7 4.2 h-1.6 z M262.48 253.6 h3.0 l-0.7 4.0 h-1.6 z" fill="#a2a2a2"/>
<rect x="263.38" y="236.6" width="1.2" height="1.2" fill="#555"/><rect x="263.38" y="256.12" width="1.2" height="1.2" fill="#555"/>
<path d="M268.95 236.0 h3.0 l-0.7 4.2 h-1.6 z M268.95 253.6 h3.0 l-0.7 4.0 h-1.6 z" fill="#a2a2a2"/>
<rect x="269.85" y="236.6" width="1.2" height="1.2" fill="#555"/><rect x="269.85" y="256.12" width="1.2" height="1.2" fill="#555"/>
<path d="M275.43 236.0 h3.0 l-0.7 4.2 h-1.6 z M275.43 253.6 h3.0 l-0.7 4.0 h-1.6 z" fill="#a2a2a2"/>
<rect x="276.32" y="236.6" width="1.2" height="1.2" fill="#555"/><rect x="276.32" y="256.12" width="1.2" height="1.2" fill="#555"/>
<path d="M281.9 236.0 h3.0 l-0.7 4.2 h-1.6 z M281.9 253.6 h3.0 l-0.7 4.0 h-1.6 z" fill="#a2a2a2"/>
<rect x="282.8" y="236.6" width="1.2" height="1.2" fill="#555"/><rect x="282.8" y="256.12" width="1.2" height="1.2" fill="#555"/>
<path d="M288.38 236.0 h3.0 l-0.7 4.2 h-1.6 z M288.38 253.6 h3.0 l-0.7 4.0 h-1.6 z" fill="#a2a2a2"/>
<rect x="289.27" y="236.6" width="1.2" height="1.2" fill="#555"/><rect x="289.27" y="256.12" width="1.2" height="1.2" fill="#555"/>
<path d="M294.85 236.0 h3.0 l-0.7 4.2 h-1.6 z M294.85 253.6 h3.0 l-0.7 4.0 h-1.6 z" fill="#a2a2a2"/>
<rect x="295.75" y="236.6" width="1.2" height="1.2" fill="#555"/><rect x="295.75" y="256.12" width="1.2" height="1.2" fill="#555"/>
<path d="M301.32 236.0 h3.0 l-0.7 4.2 h-1.6 z M301.32 253.6 h3.0 l-0.7 4.0 h-1.6 z" fill="#a2a2a2"/>
<rect x="302.22" y="236.6" width="1.2" height="1.2" fill="#555"/><rect x="302.22" y="256.12" width="1.2" height="1.2" fill="#555"/>
<path d="M314.27 236.0 h3.0 l-0.7 4.2 h-1.6 z M314.27 253.6 h3.0 l-0.7 4.0 h-1.6 z" fill="#a2a2a2"/>
<rect x="315.17" y="236.6" width="1.2" height="1.2" fill="#555"/><rect x="315.17" y="256.12" width="1.2" height="1.2" fill="#555"/>
<path d="M320.75 236.0 h3.0 l-0.7 4.2 h-1.6 z M320.75 253.6 h3.0 l-0.7 4.0 h-1.6 z" fill="#a2a2a2"/>
<rect x="321.65" y="236.6" width="1.2" height="1.2" fill="#555"/><rect x="321.65" y="256.12" width="1.2" height="1.2" fill="#555"/>
<path d="M327.23 236.0 h3.0 l-0.7 4.2 h-1.6 z M327.23 253.6 h3.0 l-0.7 4.0 h-1.6 z" fill="#a2a2a2"/>
<rect x="328.12" y="236.6" width="1.2" height="1.2" fill="#555"/><rect x="328.12" y="256.12" width="1.2" height="1.2" fill="#555"/>
<path d="M333.7 236.0 h3.0 l-0.7 4.2 h-1.6 z M333.7 253.6 h3.0 l-0.7 4.0 h-1.6 z" fill="#a2a2a2"/>
<rect x="334.6" y="236.6" width="1.2" height="1.2" fill="#555"/><rect x="334.6" y="256.12" width="1.2" height="1.2" fill="#555"/>
<path d="M340.18 236.0 h3.0 l-0.7 4.2 h-1.6 z M340.18 253.6 h3.0 l-0.7 4.0 h-1.6 z" fill="#a2a2a2"/>
<rect x="341.07" y="236.6" width="1.2" height="1.2" fill="#555"/><rect x="341.07" y="256.12" width="1.2" height="1.2" fill="#555"/>
<path d="M346.65 236.0 h3.0 l-0.7 4.2 h-1.6 z M346.65 253.6 h3.0 l-0.7 4.0 h-1.6 z" fill="#a2a2a2"/>
<rect x="347.55" y="236.6" width="1.2" height="1.2" fill="#555"/><rect x="347.55" y="256.12" width="1.2" height="1.2" fill="#555"/>
<path d="M353.12 236.0 h3.0 l-0.7 4.2 h-1.6 z M353.12 253.6 h3.0 l-0.7 4.0 h-1.6 z" fill="#a2a2a2"/>
<rect x="354.02" y="236.6" width="1.2" height="1.2" fill="#555"/><rect x="354.02" y="256.12" width="1.2" height="1.2" fill="#555"/>
<path d="M366.07 236.0 h3.0 l-0.7 4.2 h-1.6 z M366.07 253.6 h3.0 l-0.7 4.0 h-1.6 z" fill="#a2a2a2"/>
<rect x="366.97" y="236.6" width="1.2" height="1.2" fill="#555"/><rect x="366.97" y="256.12" width="1.2" height="1.2" fill="#555"/>
<path d="M372.55 236.0 h3.0 l-0.7 4.2 h-1.6 z M372.55 253.6 h3.0 l-0.7 4.0 h-1.6 z" fill="#a2a2a2"/>
<rect x="373.45" y="236.6" width="1.2" height="1.2" fill="#555"/><rect x="373.45" y="256.12" width="1.2" height="1.2" fill="#555"/>
<path d="M379.02 236.0 h3.0 l-0.7 4.2 h-1.6 z M379.02 253.6 h3.0 l-0.7 4.0 h-1.6 z" fill="#a2a2a2"/>
<rect x="379.92" y="236.6" width="1.2" height="1.2" fill="#555"/><rect x="379.92" y="256.12" width="1.2" height="1.2" fill="#555"/>
<path d="M385.5 236.0 h3.0 l-0.7 4.2 h-1.6 z M385.5 253.6 h3.0 l-0.7 4.0 h-1.6 z" fill="#a2a2a2"/>
<rect x="386.4" y="236.6" width="1.2" height="1.2" fill="#555"/><rect x="386.4" y="256.12" width="1.2" height="1.2" fill="#555"/>
<path d="M391.98 236.0 h3.0 l-0.7 4.2 h-1.6 z M391.98 253.6 h3.0 l-0.7 4.0 h-1.6 z" fill="#a2a2a2"/>
<rect x="392.88" y="236.6" width="1.2" height="1.2" fill="#555"/><rect x="392.88" y="256.12" width="1.2" height="1.2" fill="#555"/>
<path d="M398.45 236.0 h3.0 l-0.7 4.2 h-1.6 z M398.45 253.6 h3.0 l-0.7 4.0 h-1.6 z" fill="#a2a2a2"/>
<rect x="399.35" y="236.6" width="1.2" height="1.2" fill="#555"/><rect x="399.35" y="256.12" width="1.2" height="1.2" fill="#555"/>
<path d="M404.92 236.0 h3.0 l-0.7 4.2 h-1.6 z M404.92 253.6 h3.0 l-0.7 4.0 h-1.6 z" fill="#a2a2a2"/>
<rect x="405.82" y="236.6" width="1.2" height="1.2" fill="#555"/><rect x="405.82" y="256.12" width="1.2" height="1.2" fill="#555"/>
<path d="M417.88 236.0 h3.0 l-0.7 4.2 h-1.6 z M417.88 253.6 h3.0 l-0.7 4.0 h-1.6 z" fill="#a2a2a2"/>
<rect x="418.77" y="236.6" width="1.2" height="1.2" fill="#555"/><rect x="418.77" y="256.12" width="1.2" height="1.2" fill="#555"/>
<path d="M424.35 236.0 h3.0 l-0.7 4.2 h-1.6 z M424.35 253.6 h3.0 l-0.7 4.0 h-1.6 z" fill="#a2a2a2"/>
<rect x="425.25" y="236.6" width="1.2" height="1.2" fill="#555"/><rect x="425.25" y="256.12" width="1.2" height="1.2" fill="#555"/>
<path d="M430.82 236.0 h3.0 l-0.7 4.2 h-1.6 z M430.82 253.6 h3.0 l-0.7 4.0 h-1.6 z" fill="#a2a2a2"/>
<rect x="431.72" y="236.6" width="1.2" height="1.2" fill="#555"/><rect x="431.72" y="256.12" width="1.2" height="1.2" fill="#555"/>
<path d="M437.3 236.0 h3.0 l-0.7 4.2 h-1.6 z M437.3 253.6 h3.0 l-0.7 4.0 h-1.6 z" fill="#a2a2a2"/>
<rect x="438.2" y="236.6" width="1.2" height="1.2" fill="#555"/><rect x="438.2" y="256.12" width="1.2" height="1.2" fill="#555"/>
<path d="M443.77 236.0 h3.0 l-0.7 4.2 h-1.6 z M443.77 253.6 h3.0 l-0.7 4.0 h-1.6 z" fill="#a2a2a2"/>
<rect x="444.67" y="236.6" width="1.2" height="1.2" fill="#555"/><rect x="444.67" y="256.12" width="1.2" height="1.2" fill="#555"/>
<path d="M450.25 236.0 h3.0 l-0.7 4.2 h-1.6 z M450.25 253.6 h3.0 l-0.7 4.0 h-1.6 z" fill="#a2a2a2"/>
<rect x="451.15" y="236.6" width="1.2" height="1.2" fill="#555"/><rect x="451.15" y="256.12" width="1.2" height="1.2" fill="#555"/>
<path d="M456.73 236.0 h3.0 l-0.7 4.2 h-1.6 z M456.73 253.6 h3.0 l-0.7 4.0 h-1.6 z" fill="#a2a2a2"/>
<rect x="457.62" y="236.6" width="1.2" height="1.2" fill="#555"/><rect x="457.62" y="256.12" width="1.2" height="1.2" fill="#555"/>
<path d="M553.85 236.0 h3.0 l-0.7 4.2 h-1.6 z M553.85 253.6 h3.0 l-0.7 4.0 h-1.6 z" fill="#a2a2a2"/>
<rect x="554.75" y="236.6" width="1.2" height="1.2" fill="#555"/><rect x="554.75" y="256.12" width="1.2" height="1.2" fill="#555"/>
<path d="M560.33 236.0 h3.0 l-0.7 4.2 h-1.6 z M560.33 253.6 h3.0 l-0.7 4.0 h-1.6 z" fill="#a2a2a2"/>
<rect x="561.23" y="236.6" width="1.2" height="1.2" fill="#555"/><rect x="561.23" y="256.12" width="1.2" height="1.2" fill="#555"/>
<path d="M566.8 236.0 h3.0 l-0.7 4.2 h-1.6 z M566.8 253.6 h3.0 l-0.7 4.0 h-1.6 z" fill="#a2a2a2"/>
<rect x="567.7" y="236.6" width="1.2" height="1.2" fill="#555"/><rect x="567.7" y="256.12" width="1.2" height="1.2" fill="#555"/>
<path d="M573.27 236.0 h3.0 l-0.7 4.2 h-1.6 z M573.27 253.6 h3.0 l-0.7 4.0 h-1.6 z" fill="#a2a2a2"/>
<rect x="574.17" y="236.6" width="1.2" height="1.2" fill="#555"/><rect x="574.17" y="256.12" width="1.2" height="1.2" fill="#555"/>
<path d="M579.75 236.0 h3.0 l-0.7 4.2 h-1.6 z M579.75 253.6 h3.0 l-0.7 4.0 h-1.6 z" fill="#a2a2a2"/>
<rect x="580.65" y="236.6" width="1.2" height="1.2" fill="#555"/><rect x="580.65" y="256.12" width="1.2" height="1.2" fill="#555"/>
<path d="M586.22 236.0 h3.0 l-0.7 4.2 h-1.6 z M586.22 253.6 h3.0 l-0.7 4.0 h-1.6 z" fill="#a2a2a2"/>
<rect x="587.12" y="236.6" width="1.2" height="1.2" fill="#555"/><rect x="587.12" y="256.12" width="1.2" height="1.2" fill="#555"/>
<path d="M592.7 236.0 h3.0 l-0.7 4.2 h-1.6 z M592.7 253.6 h3.0 l-0.7 4.0 h-1.6 z" fill="#a2a2a2"/>
<rect x="593.6" y="236.6" width="1.2" height="1.2" fill="#555"/><rect x="593.6" y="256.12" width="1.2" height="1.2" fill="#555"/>
<path d="M599.17 236.0 h3.0 l-0.7 4.2 h-1.6 z M599.17 253.6 h3.0 l-0.7 4.0 h-1.6 z" fill="#a2a2a2"/>
<rect x="600.07" y="236.6" width="1.2" height="1.2" fill="#555"/><rect x="600.07" y="256.12" width="1.2" height="1.2" fill="#555"/>
<line x1="244.35" y1="225.5" x2="244.35" y2="230.62" stroke="#7e7e7e" stroke-width="0.9"/>
<line x1="250.05" y1="225.5" x2="251.05" y2="230.62" stroke="#7e7e7e" stroke-width="0.9"/>
<path d="M244.5 226.5 Q242.3 226.5 242.3 224.3 V217.2 C242.3 213.2 244.55 212 247.15 212 C249.75 212 252 213.2 252 217.2 V224.3 Q252 226.5 249.8 226.5 Z" fill="#8a2222" stroke="#7c1d1d" stroke-width="0.5"/>
<line x1="477.49" y1="251.5" x2="477.49" y2="256.52" stroke="#7e7e7e" stroke-width="0.9"/>
<line x1="483.19" y1="251.5" x2="484.19" y2="256.52" stroke="#7e7e7e" stroke-width="0.9"/>
<path d="M476.04 252.5 Q475.44 252.5 475.44 251.9 V243 C475.44 239 477.69 237.8 480.29 237.8 C482.89 237.8 485.14 239 485.14 243 V251.9 Q485.14 252.5 484.54 252.5 Z" fill="#8a2222" stroke="#7c1d1d" stroke-width="0.5"/>
<rect x="475.34" y="251.2" width="9.9" height="1.2" rx="0.5" fill="#822020"/>
<line x1="496.91" y1="251.5" x2="496.91" y2="256.52" stroke="#7e7e7e" stroke-width="0.9"/>
<line x1="502.61" y1="251.5" x2="503.61" y2="256.52" stroke="#7e7e7e" stroke-width="0.9"/>
<path d="M495.46 252.5 Q494.86 252.5 494.86 251.9 V243 C494.86 239 497.11 237.8 499.71 237.8 C502.31 237.8 504.56 239 504.56 243 V251.9 Q504.56 252.5 503.96 252.5 Z" fill="#8a2222" stroke="#7c1d1d" stroke-width="0.5"/>
<rect x="494.76" y="251.2" width="9.9" height="1.2" rx="0.5" fill="#822020"/>
<line x1="516.34" y1="251.5" x2="516.34" y2="256.52" stroke="#7e7e7e" stroke-width="0.9"/>
<line x1="522.04" y1="251.5" x2="523.04" y2="256.52" stroke="#7e7e7e" stroke-width="0.9"/>
<path d="M514.89 252.5 Q514.29 252.5 514.29 251.9 V243 C514.29 239 516.54 237.8 519.14 237.8 C521.74 237.8 523.99 239 523.99 243 V251.9 Q523.99 252.5 523.39 252.5 Z" fill="#8a2222" stroke="#7c1d1d" stroke-width="0.5"/>
<rect x="514.19" y="251.2" width="9.9" height="1.2" rx="0.5" fill="#822020"/>
<line x1="535.76" y1="251.5" x2="535.76" y2="256.52" stroke="#7e7e7e" stroke-width="0.9"/>
<line x1="541.46" y1="251.5" x2="542.46" y2="256.52" stroke="#7e7e7e" stroke-width="0.9"/>
<path d="M534.31 252.5 Q533.71 252.5 533.71 251.9 V243 C533.71 239 535.96 237.8 538.56 237.8 C541.16 237.8 543.41 239 543.41 243 V251.9 Q543.41 252.5 542.81 252.5 Z" fill="#8a2222" stroke="#7c1d1d" stroke-width="0.5"/>
<rect x="533.61" y="251.2" width="9.9" height="1.2" rx="0.5" fill="#822020"/>
<path d="M77.7 244.1 L257.5 191.77" fill="none" stroke="#e3232a" stroke-width="1.8" stroke-linecap="round" stroke-linejoin="round"/>
<path d="M84.3 244.5 L257.5 185.3" fill="none" stroke="#3d4245" stroke-width="1.8" stroke-linecap="round" stroke-linejoin="round"/>
<path d="M103 335.4 L263.98 282.42" fill="none" stroke="#a3703f" stroke-width="1.8" stroke-linecap="round" stroke-linejoin="round"/>
<path d="M109.5 335.4 L257.5 301.85" fill="none" stroke="#3d4245" stroke-width="1.8" stroke-linecap="round" stroke-linejoin="round"/>
<path d="M251.03 237.1 L251.03 256.52" fill="none" stroke="#40b540" stroke-width="1.9" stroke-linecap="round" stroke-linejoin="round"/>
<path d="M276.93 224.15 L291 237.5 L306.1 253.5 L315.77 263" fill="none" stroke="#40b540" stroke-width="1.9" stroke-linecap="round" stroke-linejoin="round"/>
<path d="M315.77 191.77 L315.77 211.2" fill="none" stroke="#e3232a" stroke-width="1.9" stroke-linecap="round" stroke-linejoin="round"/>
<path d="M555.35 191.77 L555.35 211.2" fill="none" stroke="#e3232a" stroke-width="1.9" stroke-linecap="round" stroke-linejoin="round"/>
<path d="M367.57 211.2 L374.05 191.77" fill="none" stroke="#e3232a" stroke-width="1.9" stroke-linecap="round" stroke-linejoin="round"/>
<path d="M270.45 282.42 L270.45 308.32" fill="none" stroke="#e3232a" stroke-width="1.9" stroke-linecap="round" stroke-linejoin="round"/>
<path d="M283.4 282.42 L283.4 308.32" fill="none" stroke="#e3232a" stroke-width="1.9" stroke-linecap="round" stroke-linejoin="round"/>
<path d="M296.35 282.42 L296.35 308.32" fill="none" stroke="#e3232a" stroke-width="1.9" stroke-linecap="round" stroke-linejoin="round"/>
<path d="M425.85 282.42 L425.85 308.32" fill="none" stroke="#e3232a" stroke-width="1.9" stroke-linecap="round" stroke-linejoin="round"/>
<path d="M438.8 282.42 L438.8 308.32" fill="none" stroke="#e3232a" stroke-width="1.9" stroke-linecap="round" stroke-linejoin="round"/>
<path d="M451.75 263 L458.23 308.32" fill="none" stroke="#e3232a" stroke-width="1.9" stroke-linecap="round" stroke-linejoin="round"/>
<path d="M568.3 282.42 L574.77 308.32" fill="none" stroke="#e3232a" stroke-width="1.9" stroke-linecap="round" stroke-linejoin="round"/>
<path d="M574.77 282.42 L581.25 308.32" fill="none" stroke="#e3232a" stroke-width="1.9" stroke-linecap="round" stroke-linejoin="round"/>
<path d="M283.4 185.3 L283.4 211.2" fill="none" stroke="#3d4245" stroke-width="1.9" stroke-linecap="round" stroke-linejoin="round"/>
<path d="M438.8 185.3 L438.8 211.2" fill="none" stroke="#3d4245" stroke-width="1.9" stroke-linecap="round" stroke-linejoin="round"/>
<path d="M244.55 282.42 L263.98 301.85" fill="none" stroke="#3d4245" stroke-width="1.9" stroke-linecap="round" stroke-linejoin="round"/>
<path d="M354.62 282.42 L354.62 301.85" fill="none" stroke="#3d4245" stroke-width="1.9" stroke-linecap="round" stroke-linejoin="round"/>
<path d="M600.67 282.42 L600.67 301.85" fill="none" stroke="#3d4245" stroke-width="1.9" stroke-linecap="round" stroke-linejoin="round"/>
<path d="M406.42 282.42 L412.9 301.85" fill="none" stroke="#3d4245" stroke-width="1.9" stroke-linecap="round" stroke-linejoin="round"/>
<path d="M581.25 282.42 L587.72 301.85" fill="none" stroke="#3d4245" stroke-width="1.9" stroke-linecap="round" stroke-linejoin="round"/>
<path d="M639.52 185.3 L681.8 185.3 Q688.8 185.3 688.8 192.3 L688.8 294.85 Q688.8 301.85 681.8 301.85 L639.52 301.85" fill="none" stroke="#3d4245" stroke-width="2.3" stroke-linecap="round" stroke-linejoin="round"/>
<path d="M639.52 191.77 L674.9 191.77 Q678.9 191.77 678.9 195.77 L678.9 304.32 Q678.9 308.32 674.9 308.32 L639.52 308.32" fill="none" stroke="#e3232a" stroke-width="2.1" stroke-linecap="round" stroke-linejoin="round"/>
<path d="M263.98 191.77 L263.98 211.2" fill="none" stroke="#7a3a9c" stroke-width="1.9" stroke-linecap="round" stroke-linejoin="round"/>
<path d="M276.93 282.42 L276.93 308.32" fill="none" stroke="#7a3a9c" stroke-width="1.9" stroke-linecap="round" stroke-linejoin="round"/>
<path d="M296.35 230.62 L306.6 231 L313.2 234.3 L318 240 L335.5 254.5 L343.6 261 L345.3 265.2 L336.6 263.6" fill="none" stroke="#7a3a9c" stroke-width="1.9" stroke-linecap="round" stroke-linejoin="round"/>
<path d="M322.25 230.62 Q339.7 229.3 349.85 228.75 Q360 228.2 370 227.8 Q380 227.4 390 227.5 Q400 227.6 408.6 227.85 Q417.2 228.1 432.32 230.62" fill="none" stroke="#7a3a9c" stroke-width="1.9" stroke-linecap="round" stroke-linejoin="round"/>
<path d="M322.25 230.62 Q339.7 232.1 346.85 233.2 Q354 234.3 356.75 236.8 Q359.5 239.3 360.6 244 Q361.7 248.7 362.2 251.85 Q362.7 255 365.35 257 Q368 259 371.35 259.9 Q374.7 260.8 387.35 262.4 Q400 264 432.32 269.47" fill="none" stroke="#7a3a9c" stroke-width="1.9" stroke-linecap="round" stroke-linejoin="round"/>
<path d="M348.15 269.47 Q390 266 432.32 263" fill="none" stroke="#7a3a9c" stroke-width="1.9" stroke-linecap="round" stroke-linejoin="round"/>
<path d="M276.93 217.67 Q273.4 211.5 273.8 209.9 Q274.2 208.3 276.85 208.4 Q279.5 208.5 282 211.15 Q284.5 213.8 287.75 214.9 Q291 216 305.5 216.4 Q320 216.8 341.68 217.67" fill="none" stroke="#1b9ed8" stroke-width="1.9" stroke-linecap="round" stroke-linejoin="round"/>
<path d="M289.88 230.62 L293 240.5 L298 254.3 L302 268" fill="none" stroke="#1b9ed8" stroke-width="1.9" stroke-linecap="round" stroke-linejoin="round"/>
<path d="M301.5 261.5 Q305.5 268.5 307.25 269.05 Q309 269.6 328.73 269.47" fill="none" stroke="#1b9ed8" stroke-width="1.9" stroke-linecap="round" stroke-linejoin="round"/>
<path d="M335.2 224.15 L374.05 224.15" fill="none" stroke="#1b9ed8" stroke-width="1.9" stroke-linecap="round" stroke-linejoin="round"/>
<path d="M419.38 230.62 Q372 230.7 367.5 232.85 Q363 235 361.8 241 Q360.6 247 360 251.4 Q359.4 255.8 356.9 258.05 Q354.4 260.3 348.15 263" fill="none" stroke="#1b9ed8" stroke-width="1.9" stroke-linecap="round" stroke-linejoin="round"/>
<path d="M419.38 217.67 L424 239.8 L426.2 253.6 L432.32 275.95" fill="none" stroke="#1b9ed8" stroke-width="1.9" stroke-linecap="round" stroke-linejoin="round"/>
<path d="M348.15 211.2 Q367.6 213 377.25 214.1 Q386.9 215.2 397.95 214.4 Q409 213.6 420 212.8 Q431 212 451.75 211.2" fill="none" stroke="#f5880d" stroke-width="1.9" stroke-linecap="round" stroke-linejoin="round"/>
<path d="M354.62 217.67 L380.52 217.67" fill="none" stroke="#d6289a" stroke-width="1.9" stroke-linecap="round" stroke-linejoin="round"/>
<path d="M387 224.15 L445.27 224.15" fill="none" stroke="#d6289a" stroke-width="1.9" stroke-linecap="round" stroke-linejoin="round"/>
<path d="M458.23 230.62 Q440 232 430 233.5 Q420 235 417.25 237 Q414.5 239 413.6 242 Q412.7 245 412.7 250.45 Q412.7 255.9 410.5 258.35 Q408.3 260.8 405.9 261.2 Q403.5 261.6 381.75 261.8 Q360 262 322.25 263" fill="none" stroke="#d6289a" stroke-width="1.9" stroke-linecap="round" stroke-linejoin="round"/>
<path d="M276.93 211.2 Q289 226.7 292 230 Q295 233.3 298.2 234.15 Q301.4 235 304 236.35 Q306.6 237.7 307.4 241 Q308.2 244.3 308.75 248.7 Q309.3 253.1 312.35 256.15 Q315.4 259.2 320.9 260 Q326.4 260.8 341.68 263" fill="none" stroke="#f5880d" stroke-width="1.9" stroke-linecap="round" stroke-linejoin="round"/>
<path d="M251.03 263 L263.98 263" fill="none" stroke="#a3703f" stroke-width="1.9" stroke-linecap="round" stroke-linejoin="round"/>
<path d="M263.98 256.52 Q268 259 270 259.5 Q272 260 288 260.45 Q304 260.9 306.5 261.35 Q309 261.8 312.75 263.1 Q316.5 264.4 329.75 266.8 Q343 269.2 348.3 271 Q353.6 272.8 366.8 273.65 Q380 274.5 445.27 275.95" fill="none" stroke="#a3703f" stroke-width="1.9" stroke-linecap="round" stroke-linejoin="round"/>
<path d="M263.98 269.47 L419.38 282.42" fill="none" stroke="#a3703f" stroke-width="1.9" stroke-linecap="round" stroke-linejoin="round"/>
<path d="M263.98 275.95 L289.88 275.95" fill="none" stroke="#a3703f" stroke-width="1.9" stroke-linecap="round" stroke-linejoin="round"/>
<path d="M445.27 217.67 Q451.7 226 456.55 227.05 Q461.4 228.1 464.85 230.15 Q468.3 232.2 469.8 235.65 Q471.3 239.1 471.3 248.55 Q471.3 258 470.15 260.2 Q469 262.4 458.23 263" fill="none" stroke="#9ba1a3" stroke-width="1.9" stroke-linecap="round" stroke-linejoin="round"/>
<path d="M484.12 269.47 Q496.8 271.4 503.25 271.15 Q509.7 270.9 519.85 269.35 Q530 267.8 539.65 266.7 Q549.3 265.6 558.95 264.65 Q568.6 263.7 587.72 263" fill="none" stroke="#9ba1a3" stroke-width="1.9" stroke-linecap="round" stroke-linejoin="round"/>
<path d="M503.55 275.95 L536 270.5 L561.83 275.95" fill="none" stroke="#9ba1a3" stroke-width="1.9" stroke-linecap="round" stroke-linejoin="round"/>
<path d="M522.97 282.42 L536 270.5 L555.35 282.42" fill="none" stroke="#9ba1a3" stroke-width="1.9" stroke-linecap="round" stroke-linejoin="round"/>
<path d="M542.4 269.47 L594.2 269.47" fill="none" stroke="#9ba1a3" stroke-width="1.9" stroke-linecap="round" stroke-linejoin="round"/>
<path d="M561.83 211.2 L626.58 211.2" fill="none" stroke="#f2d000" stroke-width="1.9" stroke-linecap="round" stroke-linejoin="round"/>
<path d="M568.3 217.67 L620.1 217.67" fill="none" stroke="#f2d000" stroke-width="1.9" stroke-linecap="round" stroke-linejoin="round"/>
<path d="M574.77 224.15 L574.77 210.3 Q574.77 205.3 579.77 205.3 L634.52 205.3 Q639.52 205.3 639.52 210.3 L639.52 211.2" fill="none" stroke="#f2d000" stroke-width="1.9" stroke-linecap="round" stroke-linejoin="round"/>
<path d="M581.25 230.62 L581.25 201.8 Q581.25 196.8 586.25 196.8 L641 196.8 Q646 196.8 646 201.8 L646 217.67" fill="none" stroke="#f2d000" stroke-width="1.9" stroke-linecap="round" stroke-linejoin="round"/>
<path d="M587.72 230.62 L587.72 226.4 Q587.72 221.4 592.72 221.4 L608.6 221.4 Q613.6 221.4 613.6 226.4 L613.6 281.5 Q613.6 286.5 618.6 286.5 L634.52 286.5 Q639.52 286.5 639.52 281.5 L639.52 269.47" fill="none" stroke="#f2d000" stroke-width="1.9" stroke-linecap="round" stroke-linejoin="round"/>
<path d="M594.2 230.62 L594.2 230.62 Q594.2 228 596.82 227.94 L606.4 227.7 Q610.4 227.6 610.4 231.6 L610.4 274.7 Q610.4 278.7 614.4 278.7 L622.58 278.7 Q626.58 278.7 626.58 274.7 L626.58 269.47" fill="none" stroke="#f2d000" stroke-width="1.9" stroke-linecap="round" stroke-linejoin="round"/>
<path d="M600.67 230.62 L603.8 230.62 Q607.3 230.62 607.3 234.12 L607.3 268.7 Q607.3 272.2 610.8 272.2 L617.37 272.2 Q620.1 272.2 620.1 269.47 L620.1 269.47" fill="none" stroke="#f2d000" stroke-width="1.9" stroke-linecap="round" stroke-linejoin="round"/>
<defs><clipPath id="blk"><rect x="0" y="0" width="725" height="175.2"/></clipPath></defs>
<g clip-path="url(#blk)">
<path d="M276.93 230.62 L274.11 226.22 Q271.4 222 271 217 L271 217 Q270.6 212 271.26 207.03 L271.81 202.95 Q272.6 197 273.39 191.05 L274.61 181.95 Q275.4 176 275.95 170.03 L276.05 168.97 Q276.6 163 282.6 162.95 L294 162.85 Q300 162.8 306 162.8 L536.4 162.8 Q542.4 162.8 542.4 168.8 L542.4 263" fill="none" stroke="#40b540" stroke-width="2.25" stroke-linecap="round" stroke-linejoin="round"/>
<path d="M296.35 224.15 L296.35 157 Q296.35 151 302.35 151 L516.97 151 Q522.97 151 522.97 157 L522.97 263" fill="none" stroke="#40b540" stroke-width="2.25" stroke-linecap="round" stroke-linejoin="round"/>
<path d="M432.32 217.67 L432.32 140.3 Q432.32 134.3 438.32 134.3 L497.55 134.3 Q503.55 134.3 503.55 140.3 L503.55 269.47" fill="none" stroke="#40b540" stroke-width="2.25" stroke-linecap="round" stroke-linejoin="round"/>
<path d="M451.75 224.15 L451.75 119.3 Q451.75 113.3 457.75 113.3 L478.12 113.3 Q484.12 113.3 484.12 119.3 L484.12 263" fill="none" stroke="#40b540" stroke-width="2.25" stroke-linecap="round" stroke-linejoin="round"/>
</g>
<path d="M276.93 230.62 L274.11 226.22 Q271.4 222 271 217 L271 217 Q270.6 212 271.26 207.03 L271.81 202.95 Q272.6 197 273.39 191.05 L274.61 181.95 Q275.4 176 275.95 170.03 L276.05 168.97 Q276.6 163 282.6 162.95 L294 162.85 Q300 162.8 306 162.8 L536.4 162.8 Q542.4 162.8 542.4 168.8 L542.4 263" fill="none" stroke="#40b540" stroke-width="1.9" stroke-linecap="round" stroke-linejoin="round"/>
<path d="M296.35 224.15 L296.35 157 Q296.35 151 302.35 151 L516.97 151 Q522.97 151 522.97 157 L522.97 263" fill="none" stroke="#40b540" stroke-width="1.9" stroke-linecap="round" stroke-linejoin="round"/>
<path d="M432.32 217.67 L432.32 140.3 Q432.32 134.3 438.32 134.3 L497.55 134.3 Q503.55 134.3 503.55 140.3 L503.55 269.47" fill="none" stroke="#40b540" stroke-width="1.9" stroke-linecap="round" stroke-linejoin="round"/>
<path d="M451.75 224.15 L451.75 119.3 Q451.75 113.3 457.75 113.3 L478.12 113.3 Q484.12 113.3 484.12 119.3 L484.12 263" fill="none" stroke="#40b540" stroke-width="1.9" stroke-linecap="round" stroke-linejoin="round"/>
<rect x="260.23" y="240.1" width="46.35" height="13.5" rx="0.8" fill="#333"/>
<path d="M260.23 244.9 a1.9 1.9 0 0 1 0 3.8 z" fill="#111"/>
<rect x="263.12" y="250.9" width="2" height="2" fill="#eee"/>
<text x="283.4" y="249.2" font-size="6.0" font-weight="bold" fill="#d8d8d8" text-anchor="middle" textLength="18.8" lengthAdjust="spacingAndGlyphs">74HC73</text>
<rect x="312.02" y="240.1" width="46.35" height="13.5" rx="0.8" fill="#333"/>
<path d="M312.02 244.9 a1.9 1.9 0 0 1 0 3.8 z" fill="#111"/>
<rect x="314.92" y="250.9" width="2" height="2" fill="#eee"/>
<text x="335.2" y="249.2" font-size="6.0" font-weight="bold" fill="#d8d8d8" text-anchor="middle" textLength="18.8" lengthAdjust="spacingAndGlyphs">74HC08</text>
<rect x="363.82" y="240.1" width="46.35" height="13.5" rx="0.8" fill="#333"/>
<path d="M363.82 244.9 a1.9 1.9 0 0 1 0 3.8 z" fill="#111"/>
<rect x="366.72" y="250.9" width="2" height="2" fill="#eee"/>
<text x="387" y="249.2" font-size="6.0" font-weight="bold" fill="#d8d8d8" text-anchor="middle" textLength="18.8" lengthAdjust="spacingAndGlyphs">74HC32</text>
<rect x="415.62" y="240.1" width="46.35" height="13.5" rx="0.8" fill="#333"/>
<path d="M415.62 244.9 a1.9 1.9 0 0 1 0 3.8 z" fill="#111"/>
<rect x="418.52" y="250.9" width="2" height="2" fill="#eee"/>
<text x="438.8" y="249.2" font-size="6.0" font-weight="bold" fill="#d8d8d8" text-anchor="middle" textLength="18.8" lengthAdjust="spacingAndGlyphs">74HC73</text>
<rect x="551.6" y="240.1" width="52.83" height="13.5" rx="0.8" fill="#333"/>
<path d="M551.6 244.9 a1.9 1.9 0 0 1 0 3.8 z" fill="#111"/>
<rect x="554.5" y="250.9" width="2" height="2" fill="#eee"/>
<text x="578.01" y="249.2" font-size="6.0" font-weight="bold" fill="#d8d8d8" text-anchor="middle" textLength="17.4" lengthAdjust="spacingAndGlyphs">CD4511</text>
<line x1="244.55" y1="237.1" x2="244.55" y2="263" stroke="#808080" stroke-width="0.9"/>
<path d="M245.05 240.6 L247.75 242.72 L247.75 245.56 L246.75 247.33 L246.75 251.57 L247.75 253.34 L247.75 256.18 L245.05 258.3 L244.05 258.3 L241.35 256.18 L241.35 253.34 L242.35 251.57 L242.35 247.33 L241.35 245.56 L241.35 242.72 L244.05 240.6Z" fill="#e6c28a" stroke="#e6c28a" stroke-width="0.8" stroke-linejoin="round"/>
<rect x="242.15" y="248.21" width="4.6" height="1.4" fill="#8a4a14"/>
<rect x="241.95" y="251.4" width="5" height="1.4" fill="#ff8a00"/>
<rect x="241.35" y="254.76" width="6.2" height="1.5" fill="#ff8a00"/>
<rect x="241.55" y="244.14" width="6" height="0.8" fill="#c9c060"/>
<line x1="477.65" y1="275.95" x2="477.65" y2="301.85" stroke="#808080" stroke-width="0.9"/>
<path d="M478.15 279.1 L480.85 281.44 L480.85 284.56 L479.85 286.51 L479.85 291.19 L480.85 293.14 L480.85 296.26 L478.15 298.6 L477.15 298.6 L474.45 296.26 L474.45 293.14 L475.45 291.19 L475.45 286.51 L474.45 284.56 L474.45 281.44 L477.15 279.1Z" fill="#e6c28a" stroke="#e6c28a" stroke-width="0.8" stroke-linejoin="round"/>
<rect x="475.25" y="287.49" width="4.6" height="1.4" fill="#8a4a14"/>
<rect x="475.05" y="291" width="5" height="1.4" fill="#ff8a00"/>
<rect x="474.45" y="294.7" width="6.2" height="1.5" fill="#ff8a00"/>
<rect x="474.65" y="283" width="6" height="0.8" fill="#c9c060"/>
<line x1="497.07" y1="275.95" x2="497.07" y2="301.85" stroke="#808080" stroke-width="0.9"/>
<path d="M497.57 279.1 L500.27 281.44 L500.27 284.56 L499.27 286.51 L499.27 291.19 L500.27 293.14 L500.27 296.26 L497.57 298.6 L496.57 298.6 L493.88 296.26 L493.88 293.14 L494.88 291.19 L494.88 286.51 L493.88 284.56 L493.88 281.44 L496.57 279.1Z" fill="#e6c28a" stroke="#e6c28a" stroke-width="0.8" stroke-linejoin="round"/>
<rect x="494.68" y="287.49" width="4.6" height="1.4" fill="#8a4a14"/>
<rect x="494.47" y="291" width="5" height="1.4" fill="#ff8a00"/>
<rect x="493.88" y="294.7" width="6.2" height="1.5" fill="#ff8a00"/>
<rect x="494.07" y="283" width="6" height="0.8" fill="#c9c060"/>
<line x1="516.5" y1="275.95" x2="516.5" y2="301.85" stroke="#808080" stroke-width="0.9"/>
<path d="M517 279.1 L519.7 281.44 L519.7 284.56 L518.7 286.51 L518.7 291.19 L519.7 293.14 L519.7 296.26 L517 298.6 L516 298.6 L513.3 296.26 L513.3 293.14 L514.3 291.19 L514.3 286.51 L513.3 284.56 L513.3 281.44 L516 279.1Z" fill="#e6c28a" stroke="#e6c28a" stroke-width="0.8" stroke-linejoin="round"/>
<rect x="514.1" y="287.49" width="4.6" height="1.4" fill="#8a4a14"/>
<rect x="513.9" y="291" width="5" height="1.4" fill="#ff8a00"/>
<rect x="513.3" y="294.7" width="6.2" height="1.5" fill="#ff8a00"/>
<rect x="513.5" y="283" width="6" height="0.8" fill="#c9c060"/>
<line x1="535.92" y1="275.95" x2="535.92" y2="301.85" stroke="#808080" stroke-width="0.9"/>
<path d="M536.42 279.1 L539.12 281.44 L539.12 284.56 L538.12 286.51 L538.12 291.19 L539.12 293.14 L539.12 296.26 L536.42 298.6 L535.42 298.6 L532.72 296.26 L532.72 293.14 L533.72 291.19 L533.72 286.51 L532.72 284.56 L532.72 281.44 L535.42 279.1Z" fill="#e6c28a" stroke="#e6c28a" stroke-width="0.8" stroke-linejoin="round"/>
<rect x="533.52" y="287.49" width="4.6" height="1.4" fill="#8a4a14"/>
<rect x="533.32" y="291" width="5" height="1.4" fill="#ff8a00"/>
<rect x="532.72" y="294.7" width="6.2" height="1.5" fill="#ff8a00"/>
<rect x="532.92" y="283" width="6" height="0.8" fill="#c9c060"/>
<line x1="633.05" y1="185.3" x2="633.05" y2="211.2" stroke="#808080" stroke-width="0.9"/>
<path d="M633.55 188.7 L636.25 190.94 L636.25 193.94 L635.25 195.81 L635.25 200.29 L636.25 202.16 L636.25 205.16 L633.55 207.4 L632.55 207.4 L629.85 205.16 L629.85 202.16 L630.85 200.29 L630.85 195.81 L629.85 193.94 L629.85 190.94 L632.55 188.7Z" fill="#e6c28a" stroke="#e6c28a" stroke-width="0.8" stroke-linejoin="round"/>
<rect x="630.65" y="196.74" width="4.6" height="1.4" fill="#8a4a14"/>
<rect x="630.45" y="200.11" width="5" height="1.4" fill="#151515"/>
<rect x="629.85" y="203.66" width="6.2" height="1.5" fill="#8a4a14"/>
<rect x="630.05" y="192.44" width="6" height="0.8" fill="#c9c060"/>
<rect x="616.9" y="219.3" width="31.9" height="48.5" fill="#3b4044"/>
<circle cx="620.1" cy="224.3" r="0.8" fill="#555a5e"/><circle cx="620.1" cy="263.1" r="0.8" fill="#555a5e"/>
<circle cx="626.58" cy="224.3" r="0.8" fill="#555a5e"/><circle cx="626.58" cy="263.1" r="0.8" fill="#555a5e"/>
<circle cx="633.05" cy="224.3" r="0.8" fill="#555a5e"/><circle cx="633.05" cy="263.1" r="0.8" fill="#555a5e"/>
<circle cx="639.52" cy="224.3" r="0.8" fill="#555a5e"/><circle cx="639.52" cy="263.1" r="0.8" fill="#555a5e"/>
<circle cx="646" cy="224.3" r="0.8" fill="#555a5e"/><circle cx="646" cy="263.1" r="0.8" fill="#555a5e"/>
<path d="M628.3 229 L629.65 230.35 L643.05 230.35 L644.4 229 L643.05 227.65 L629.65 227.65 Z" fill="#a6a6a6"/>
<path d="M627.7 229.6 L626.1 230.64 L623.86 241 L624.9 242.6 L626.5 241.56 L628.74 231.2 Z" fill="#a6a6a6"/>
<path d="M644.3 229.6 L642.7 230.64 L640.46 241 L641.5 242.6 L643.1 241.56 L645.34 231.2 Z" fill="#a6a6a6"/>
<path d="M625.8 243.3 L627.15 244.65 L639.45 244.65 L640.8 243.3 L639.45 241.95 L627.15 241.95 Z" fill="#a6a6a6"/>
<path d="M624.3 244 L622.71 245.06 L620.54 256.01 L621.6 257.6 L623.19 256.54 L625.36 245.59 Z" fill="#a6a6a6"/>
<path d="M640.3 244 L638.71 245.06 L636.54 256.01 L637.6 257.6 L639.19 256.54 L641.36 245.59 Z" fill="#a6a6a6"/>
<path d="M622.5 258.2 L623.85 259.55 L636.45 259.55 L637.8 258.2 L636.45 256.85 L623.85 256.85 Z" fill="#a6a6a6"/>
<circle cx="643.3" cy="258.2" r="1.7" fill="#a6a6a6"/>
</svg></body></html>
